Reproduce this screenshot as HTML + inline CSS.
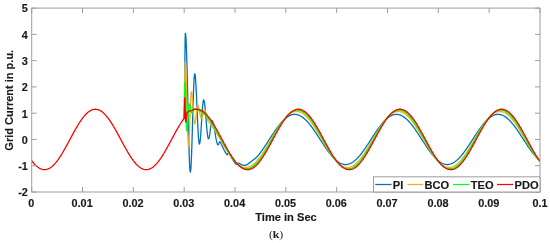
<!DOCTYPE html><html><head><meta charset="utf-8"><title>Grid Current</title><style>html,body{margin:0;padding:0;background:#fff;overflow:hidden}body{width:550px;height:243px;position:relative}</style></head><body><svg width="550" height="243" viewBox="0 0 550 243" style="position:absolute;left:0;top:0">
<rect width="550" height="243" fill="#fff"/>
<clipPath id="c"><rect x="31.7" y="8.1" width="508.3" height="183.9"/></clipPath>
<g clip-path="url(#c)" fill="none" stroke-linejoin="round" stroke-linecap="round">
<path d="M183.89 118.64 L183.94 118.57 L183.95 118.55 L184.02 118.46 L184.08 118.38 L184.15 118.29 L184.21 117.57 L184.28 115.69 L184.34 112.70 L184.41 108.69 L184.47 103.76 L184.53 98.05 L184.58 94.09 L184.60 91.73 L184.66 84.97 L184.73 77.95 L184.79 70.87 L184.86 63.94 L184.92 57.33 L184.99 51.25 L185.05 45.85 L185.11 41.28 L185.18 37.68 L185.21 36.28 L185.24 35.14 L185.31 33.74 L185.37 33.45 L185.44 33.50 L185.50 33.67 L185.57 33.95 L185.63 34.35 L185.69 34.86 L185.76 35.48 L185.82 36.22 L185.85 36.51 L185.89 37.07 L185.95 38.03 L186.02 39.09 L186.08 40.26 L186.15 41.54 L186.21 42.92 L186.27 44.39 L186.34 45.97 L186.40 47.63 L186.47 49.39 L186.48 49.79 L186.53 51.24 L186.60 53.18 L186.66 55.19 L186.73 57.29 L186.79 59.46 L186.85 61.70 L186.92 64.01 L186.98 66.38 L187.05 68.82 L187.11 71.31 L187.12 71.50 L187.18 73.85 L187.24 76.44 L187.31 79.08 L187.37 81.75 L187.43 84.46 L187.50 87.20 L187.56 89.96 L187.63 92.75 L187.69 95.55 L187.75 98.19 L187.76 98.36 L187.82 101.19 L187.89 104.01 L187.95 106.83 L188.01 109.64 L188.08 112.45 L188.14 115.23 L188.21 118.00 L188.27 120.74 L188.34 123.45 L188.39 125.59 L188.40 126.13 L188.47 128.76 L188.53 131.36 L188.59 133.91 L188.66 136.40 L188.72 138.84 L188.79 141.22 L188.85 143.53 L188.92 145.78 L188.98 147.96 L189.02 149.35 L189.05 150.06 L189.11 152.08 L189.17 154.02 L189.24 155.88 L189.30 157.65 L189.37 159.33 L189.43 160.91 L189.50 162.40 L189.56 163.78 L189.62 165.07 L189.66 165.70 L189.69 166.25 L189.75 167.33 L189.82 168.30 L189.88 169.16 L189.95 169.91 L190.01 170.55 L190.08 171.08 L190.14 171.49 L190.20 171.79 L190.27 171.98 L190.29 172.02 L190.33 172.05 L190.40 172.01 L190.46 171.86 L190.53 171.61 L190.59 171.26 L190.66 170.81 L190.72 170.25 L190.78 169.60 L190.85 168.85 L190.91 168.00 L190.93 167.79 L190.98 167.06 L191.04 166.02 L191.11 164.90 L191.17 163.68 L191.24 162.38 L191.30 161.00 L191.36 159.53 L191.43 157.99 L191.49 156.37 L191.56 154.69 L191.56 154.52 L191.62 152.94 L191.69 151.12 L191.75 149.24 L191.82 147.31 L191.88 145.33 L191.94 143.30 L192.01 141.23 L192.07 139.11 L192.14 136.97 L192.20 134.88 L192.20 134.79 L192.27 132.59 L192.33 130.37 L192.40 128.13 L192.46 125.89 L192.52 123.63 L192.59 121.38 L192.65 119.13 L192.72 116.88 L192.78 114.65 L192.84 112.84 L192.85 112.44 L192.91 110.24 L192.98 108.08 L193.04 105.95 L193.10 103.85 L193.17 101.79 L193.23 99.78 L193.30 97.82 L193.36 95.91 L193.43 94.05 L193.47 92.83 L193.49 92.26 L193.56 90.53 L193.62 88.88 L193.68 87.29 L193.75 85.78 L193.81 84.35 L193.88 83.00 L193.94 81.73 L194.01 80.55 L194.07 79.46 L194.11 78.91 L194.14 78.47 L194.20 77.56 L194.26 76.76 L194.33 76.05 L194.39 75.44 L194.46 74.93 L194.52 74.52 L194.59 74.22 L194.65 74.02 L194.72 73.92 L194.74 73.91 L194.78 73.92 L194.84 74.00 L194.91 74.14 L194.97 74.35 L195.04 74.62 L195.10 74.96 L195.17 75.36 L195.23 75.83 L195.30 76.36 L195.36 76.95 L195.38 77.11 L195.42 77.60 L195.49 78.31 L195.55 79.09 L195.62 79.91 L195.68 80.80 L195.75 81.73 L195.81 82.72 L195.88 83.76 L195.94 84.85 L196.00 85.98 L196.01 86.12 L196.07 87.15 L196.13 88.37 L196.20 89.63 L196.26 90.92 L196.33 92.25 L196.39 93.61 L196.46 95.00 L196.52 96.41 L196.58 97.85 L196.65 99.28 L196.65 99.31 L196.71 100.79 L196.78 102.29 L196.84 103.79 L196.91 105.31 L196.97 106.83 L197.04 108.36 L197.10 109.89 L197.16 111.41 L197.23 112.93 L197.28 114.21 L197.29 114.45 L197.36 115.95 L197.42 117.44 L197.49 118.92 L197.55 120.37 L197.62 121.80 L197.68 123.21 L197.74 124.59 L197.81 125.94 L197.87 127.26 L197.92 128.17 L197.94 128.55 L198.00 129.79 L198.07 131.00 L198.13 132.16 L198.20 133.29 L198.26 134.36 L198.32 135.39 L198.39 136.36 L198.45 137.29 L198.52 138.16 L198.55 138.62 L198.58 138.97 L198.65 139.73 L198.71 140.43 L198.78 141.07 L198.84 141.65 L198.90 142.16 L198.97 142.62 L199.03 143.01 L199.10 143.34 L199.16 143.60 L199.19 143.69 L199.23 143.80 L199.29 143.93 L199.36 143.99 L199.42 144.00 L199.48 143.96 L199.55 143.87 L199.61 143.73 L199.68 143.54 L199.74 143.30 L199.81 143.02 L199.82 142.93 L199.87 142.69 L199.94 142.31 L200.00 141.89 L200.06 141.42 L200.13 140.91 L200.19 140.35 L200.26 139.76 L200.32 139.12 L200.39 138.45 L200.45 137.74 L200.46 137.64 L200.52 137.00 L200.58 136.22 L200.64 135.41 L200.71 134.57 L200.77 133.70 L200.84 132.81 L200.90 131.89 L200.97 130.95 L201.03 129.99 L201.10 129.02 L201.10 129.01 L201.16 128.02 L201.22 127.02 L201.29 126.00 L201.35 124.97 L201.42 123.94 L201.48 122.90 L201.55 121.86 L201.61 120.82 L201.67 119.79 L201.73 118.90 L201.74 118.75 L201.80 117.73 L201.87 116.71 L201.93 115.71 L202.00 114.72 L202.06 113.75 L202.13 112.79 L202.19 111.85 L202.25 110.94 L202.32 110.05 L202.37 109.43 L202.38 109.19 L202.45 108.36 L202.51 107.55 L202.58 106.78 L202.64 106.05 L202.71 105.34 L202.77 104.68 L202.83 104.05 L202.90 103.47 L202.96 102.92 L203.00 102.63 L203.03 102.42 L203.09 101.97 L203.16 101.55 L203.22 101.19 L203.29 100.87 L203.35 100.60 L203.41 100.37 L203.48 100.20 L203.54 100.07 L203.61 100.00 L203.64 99.98 L203.67 99.97 L203.74 100.00 L203.80 100.07 L203.87 100.17 L203.93 100.31 L203.99 100.48 L204.06 100.68 L204.12 100.91 L204.19 101.18 L204.25 101.47 L204.27 101.57 L204.32 101.80 L204.38 102.16 L204.45 102.55 L204.51 102.96 L204.57 103.41 L204.64 103.88 L204.70 104.38 L204.77 104.91 L204.83 105.46 L204.90 106.03 L204.91 106.13 L204.96 106.63 L205.03 107.25 L205.09 107.89 L205.15 108.56 L205.22 109.24 L205.28 109.94 L205.35 110.65 L205.41 111.38 L205.48 112.13 L205.54 112.88 L205.54 112.90 L205.61 113.65 L205.67 114.43 L205.73 115.22 L205.80 116.01 L205.86 116.81 L205.93 117.62 L205.99 118.42 L206.06 119.23 L206.12 120.04 L206.18 120.76 L206.19 120.85 L206.25 121.66 L206.31 122.46 L206.38 123.25 L206.44 124.04 L206.51 124.82 L206.57 125.59 L206.64 126.35 L206.70 127.10 L206.77 127.83 L206.81 128.37 L206.83 128.55 L206.89 129.25 L206.96 129.94 L207.02 130.60 L207.09 131.25 L207.15 131.88 L207.22 132.48 L207.28 133.06 L207.35 133.62 L207.41 134.15 L207.45 134.46 L207.47 134.65 L207.54 135.13 L207.60 135.59 L207.67 136.01 L207.73 136.40 L207.80 136.77 L207.86 137.11 L207.93 137.41 L207.99 137.69 L208.05 137.93 L208.08 138.03 L208.12 138.14 L208.18 138.32 L208.25 138.47 L208.31 138.59 L208.38 138.67 L208.44 138.72 L208.51 138.75 L208.57 138.74 L208.63 138.71 L208.70 138.65 L208.72 138.62 L208.76 138.56 L208.83 138.44 L208.89 138.29 L208.96 138.12 L209.02 137.92 L209.09 137.70 L209.15 137.45 L209.21 137.18 L209.28 136.88 L209.34 136.56 L209.36 136.50 L209.41 136.23 L209.47 135.87 L209.54 135.49 L209.60 135.10 L209.67 134.69 L209.73 134.26 L209.79 133.82 L209.86 133.37 L209.92 132.91 L209.99 132.44 L209.99 132.42 L210.05 131.96 L210.12 131.47 L210.18 130.98 L210.25 130.48 L210.31 129.98 L210.37 129.49 L210.44 128.99 L210.50 128.49 L210.57 128.00 L210.63 127.56 L210.63 127.51 L210.70 127.03 L210.76 126.56 L210.83 126.10 L210.89 125.65 L210.95 125.21 L211.02 124.78 L211.08 124.37 L211.15 123.98 L211.21 123.60 L211.26 123.33 L211.28 123.25 L211.34 122.91 L211.41 122.59 L211.47 122.30 L211.53 122.03 L211.60 121.78 L211.66 121.56 L211.73 121.36 L211.79 121.19 L211.86 121.04 L211.90 120.97 L211.92 120.93 L211.99 120.84 L212.05 120.78 L212.11 120.75 L212.18 120.75 L212.24 120.78 L212.31 120.84 L212.37 120.92 L212.44 121.03 L212.50 121.14 L212.53 121.20 L212.57 121.26 L212.63 121.40 L212.69 121.54 L212.76 121.70 L212.82 121.87 L212.89 122.05 L212.95 122.24 L213.02 122.44 L213.08 122.65 L213.14 122.87 L213.17 122.94 L213.21 123.10 L213.27 123.34 L213.34 123.59 L213.40 123.84 L213.47 124.11 L213.53 124.39 L213.60 124.67 L213.66 124.97 L213.72 125.27 L213.79 125.58 L213.80 125.64 L213.85 125.89 L213.92 126.22 L213.98 126.55 L214.05 126.89 L214.11 127.23 L214.18 127.58 L214.24 127.93 L214.30 128.29 L214.37 128.66 L214.43 129.03 L214.44 129.05 L214.50 129.40 L214.56 129.77 L214.63 130.15 L214.69 130.54 L214.76 130.92 L214.82 131.31 L214.88 131.69 L214.95 132.08 L215.01 132.47 L215.07 132.83 L215.08 132.86 L215.14 133.25 L215.21 133.64 L215.27 134.03 L215.34 134.42 L215.40 134.80 L215.46 135.19 L215.53 135.57 L215.59 135.95 L215.66 136.32 L215.71 136.61 L215.72 136.69 L215.79 137.06 L215.85 137.42 L215.92 137.78 L215.98 138.13 L216.04 138.48 L216.11 138.82 L216.17 139.15 L216.24 139.48 L216.30 139.80 L216.34 140.00 L216.37 140.11 L216.43 140.42 L216.50 140.72 L216.56 141.01 L216.62 141.29 L216.69 141.56 L216.75 141.83 L216.82 142.08 L216.88 142.33 L216.95 142.56 L216.98 142.68 L217.01 142.79 L217.08 143.01 L217.14 143.21 L217.20 143.41 L217.27 143.59 L217.33 143.77 L217.40 143.93 L217.46 144.09 L217.53 144.23 L217.59 144.36 L217.61 144.41 L217.66 144.48 L217.72 144.59 L217.78 144.69 L217.85 144.77 L217.91 144.82 L217.98 144.85 L218.04 144.85 L218.11 144.84 L218.17 144.80 L218.24 144.74 L218.25 144.72 L218.30 144.66 L218.36 144.57 L218.43 144.46 L218.49 144.34 L218.56 144.20 L218.62 144.05 L218.69 143.89 L218.75 143.73 L218.82 143.56 L218.88 143.39 L218.89 143.38 L218.94 143.22 L219.01 143.05 L219.07 142.88 L219.14 142.72 L219.20 142.57 L219.27 142.42 L219.33 142.29 L219.40 142.17 L219.46 142.07 L219.52 141.99 L219.52 141.98 L219.59 141.91 L219.65 141.86 L219.72 141.83 L219.78 141.82 L219.85 141.84 L219.91 141.87 L219.98 141.93 L220.04 142.02 L220.10 142.12 L220.16 142.20 L220.17 142.22 L220.23 142.32 L220.30 142.42 L220.36 142.53 L220.43 142.63 L220.49 142.74 L220.56 142.85 L220.62 142.96 L220.68 143.07 L220.75 143.18 L220.79 143.25 L220.81 143.29 L220.88 143.41 L220.94 143.52 L221.01 143.64 L221.07 143.75 L221.14 143.87 L221.20 143.99 L221.26 144.11 L221.33 144.23 L221.39 144.35 L221.43 144.42 L221.46 144.47 L221.52 144.60 L221.59 144.72 L221.65 144.85 L221.72 144.97 L221.78 145.10 L221.84 145.23 L221.91 145.36 L221.97 145.49 L222.04 145.62 L222.06 145.67 L222.10 145.75 L222.17 145.88 L222.23 146.01 L222.30 146.14 L222.36 146.27 L222.42 146.41 L222.49 146.54 L222.55 146.67 L222.62 146.81 L222.68 146.94 L222.70 146.98 L222.75 147.08 L222.81 147.21 L222.88 147.35 L222.94 147.48 L223.00 147.62 L223.07 147.76 L223.13 147.89 L223.20 148.03 L223.26 148.16 L223.33 148.30 L223.33 148.31 L223.39 148.44 L223.46 148.57 L223.52 148.71 L223.58 148.84 L223.65 148.98 L223.71 149.11 L223.78 149.25 L223.84 149.38 L223.91 149.52 L223.97 149.65 L223.97 149.65 L224.04 149.78 L224.10 149.92 L224.16 150.05 L224.23 150.18 L224.29 150.31 L224.36 150.44 L224.42 150.57 L224.49 150.70 L224.55 150.83 L224.60 150.93 L224.62 150.95 L224.68 151.08 L224.74 151.21 L224.81 151.33 L224.87 151.46 L224.94 151.58 L225.00 151.70 L225.07 151.82 L225.13 151.94 L225.19 152.06 L225.24 152.14 L225.26 152.18 L225.32 152.30 L225.39 152.41 L225.45 152.53 L225.52 152.64 L225.58 152.75 L225.65 152.86 L225.71 152.97 L225.77 153.08 L225.84 153.19 L225.87 153.25 L225.90 153.29 L225.97 153.40 L226.03 153.50 L226.10 153.60 L226.16 153.70 L226.23 153.80 L226.29 153.90 L226.35 154.00 L226.42 154.09 L226.48 154.19 L226.51 154.23 L226.55 154.28 L226.61 154.37 L226.68 154.46 L226.74 154.55 L226.81 154.63 L226.87 154.69 L226.93 154.73 L227.00 154.75 L227.06 154.75 L227.13 154.73 L227.15 154.73 L227.19 154.70 L227.26 154.65 L227.32 154.59 L227.39 154.51 L227.45 154.43 L227.51 154.33 L227.58 154.23 L227.64 154.12 L227.71 154.01 L227.77 153.89 L227.78 153.88 L227.84 153.78 L227.90 153.67 L227.97 153.56 L228.03 153.46 L228.09 153.37 L228.16 153.29 L228.22 153.22 L228.29 153.16 L228.35 153.12 L228.42 153.10 L228.42 153.10 L228.48 153.09 L228.55 153.10 L228.61 153.13 L228.67 153.17 L228.74 153.24 L228.80 153.32 L228.87 153.40 L228.93 153.49 L229.00 153.57 L229.05 153.64 L229.06 153.66 L229.13 153.74 L229.19 153.83 L229.25 153.92 L229.32 154.01 L229.38 154.10 L229.45 154.19 L229.51 154.28 L229.58 154.37 L229.64 154.47 L229.69 154.53 L229.71 154.56 L229.77 154.66 L229.83 154.75 L229.90 154.85 L229.96 154.95 L230.03 155.05 L230.09 155.15 L230.16 155.25 L230.22 155.35 L230.29 155.45 L230.32 155.51 L230.35 155.56 L230.41 155.66 L230.48 155.76 L230.54 155.87 L230.61 155.98 L230.67 156.08 L230.74 156.19 L230.80 156.30 L230.87 156.41 L230.93 156.51 L230.96 156.56 L230.99 156.62 L231.06 156.73 L231.12 156.84 L231.19 156.95 L231.25 157.07 L231.32 157.18 L231.38 157.29 L231.45 157.40 L231.51 157.51 L231.57 157.63 L231.59 157.66 L231.64 157.74 L231.70 157.85 L231.77 157.96 L231.83 158.08 L231.90 158.19 L231.96 158.30 L232.03 158.42 L232.09 158.53 L232.15 158.64 L232.22 158.76 L232.23 158.77 L232.28 158.87 L232.35 158.98 L232.41 159.09 L232.48 159.21 L232.54 159.32 L232.61 159.43 L232.67 159.54 L232.73 159.65 L232.80 159.76 L232.86 159.87 L232.86 159.87 L232.93 159.98 L232.99 160.09 L233.06 160.20 L233.12 160.31 L233.19 160.41 L233.25 160.52 L233.31 160.62 L233.38 160.73 L233.44 160.83 L233.50 160.92 L233.51 160.94 L233.57 161.04 L233.64 161.14 L233.70 161.24 L233.77 161.34 L233.83 161.44 L233.89 161.54 L233.96 161.63 L234.02 161.73 L234.09 161.82 L234.13 161.89 L234.15 161.92 L234.22 162.01 L234.28 162.10 L234.35 162.19 L234.41 162.28 L234.47 162.37 L234.54 162.45 L234.60 162.54 L234.67 162.62 L234.73 162.71 L234.77 162.75 L234.80 162.79 L234.86 162.87 L234.93 162.94 L234.99 163.02 L235.05 163.10 L235.12 163.17 L235.18 163.24 L235.25 163.31 L235.31 163.38 L235.38 163.45 L235.41 163.48 L235.44 163.52 L235.51 163.58 L235.57 163.65 L235.63 163.71 L235.70 163.77 L235.76 163.83 L235.83 163.88 L235.89 163.94 L235.96 163.99 L236.02 164.04 L236.04 164.06 L236.09 164.09 L236.15 164.14 L236.21 164.19 L236.28 164.24 L236.34 164.27 L236.41 164.30 L236.47 164.32 L236.54 164.33 L236.60 164.34 L236.66 164.33 L236.68 164.33 L236.73 164.32 L236.79 164.30 L236.86 164.28 L236.92 164.25 L236.99 164.21 L237.05 164.16 L237.12 164.12 L237.18 164.06 L237.24 164.01 L237.31 163.95 L237.31 163.95 L237.37 163.89 L237.44 163.83 L237.50 163.76 L237.57 163.70 L237.63 163.63 L237.70 163.57 L237.76 163.51 L237.82 163.45 L237.89 163.39 L237.95 163.35 L237.95 163.34 L238.02 163.29 L238.08 163.25 L238.15 163.21 L238.21 163.18 L238.28 163.15 L238.34 163.13 L238.40 163.12 L238.47 163.11 L238.53 163.11 L238.58 163.12 L238.60 163.12 L238.66 163.14 L238.73 163.16 L238.79 163.19 L238.86 163.22 L238.92 163.26 L238.98 163.29 L239.05 163.32 L239.11 163.35 L239.18 163.39 L239.22 163.41 L239.24 163.42 L239.31 163.45 L239.37 163.48 L239.44 163.52 L239.50 163.55 L239.56 163.58 L239.63 163.62 L239.69 163.65 L239.76 163.68 L239.82 163.72 L239.85 163.73 L239.89 163.75 L239.95 163.79 L240.02 163.82 L240.08 163.85 L240.14 163.89 L240.21 163.92 L240.27 163.96 L240.34 163.99 L240.40 164.02 L240.47 164.06 L240.49 164.07 L240.53 164.09 L240.60 164.13 L240.66 164.16 L240.72 164.20 L240.79 164.23 L240.85 164.26 L240.92 164.30 L240.98 164.33 L241.05 164.36 L241.11 164.40 L241.12 164.40 L241.18 164.43 L241.24 164.46 L241.30 164.49 L241.37 164.53 L241.43 164.56 L241.50 164.59 L241.56 164.62 L241.63 164.65 L241.69 164.68 L241.76 164.71 L241.76 164.71 L241.82 164.74 L241.88 164.77 L241.95 164.80 L242.01 164.83 L242.08 164.86 L242.14 164.88 L242.21 164.91 L242.27 164.94 L242.34 164.96 L242.39 164.98 L242.40 164.99 L242.46 165.01 L242.53 165.04 L242.59 165.06 L242.66 165.08 L242.72 165.10 L242.79 165.13 L242.85 165.15 L242.92 165.17 L242.98 165.19 L243.03 165.20 L243.04 165.20 L243.11 165.22 L243.17 165.24 L243.24 165.26 L243.30 165.27 L243.37 165.29 L243.43 165.30 L243.50 165.31 L243.56 165.33 L243.62 165.34 L243.67 165.34 L243.69 165.35 L243.75 165.36 L243.82 165.37 L243.88 165.37 L243.95 165.38 L244.01 165.39 L244.08 165.39 L244.14 165.40 L244.20 165.40 L244.27 165.40 L244.30 165.40 L244.33 165.40 L244.40 165.41 L244.46 165.40 L244.53 165.40 L244.59 165.40 L244.66 165.40 L244.72 165.39 L244.78 165.39 L244.85 165.38 L244.91 165.38 L244.94 165.37 L244.98 165.37 L245.04 165.36 L245.11 165.35 L245.17 165.34 L245.24 165.32 L245.30 165.31 L245.36 165.30 L245.43 165.28 L245.49 165.27 L245.56 165.25 L245.57 165.24 L245.62 165.23 L245.69 165.21 L245.75 165.19 L245.82 165.17 L245.88 165.15 L245.94 165.13 L246.01 165.10 L246.07 165.08 L246.14 165.05 L246.20 165.03 L246.21 165.02 L246.27 165.00 L246.33 164.97 L246.40 164.94 L246.46 164.91 L246.52 164.88 L246.59 164.85 L246.65 164.82 L246.72 164.78 L246.78 164.75 L246.84 164.72 L246.85 164.72 L246.91 164.68 L246.98 164.64 L247.04 164.61 L247.10 164.57 L247.17 164.53 L247.23 164.49 L247.30 164.45 L247.36 164.41 L247.43 164.37 L247.48 164.34 L247.49 164.33 L247.56 164.29 L247.62 164.25 L247.68 164.20 L247.75 164.16 L247.81 164.11 L247.88 164.07 L247.94 164.02 L248.01 163.98 L248.07 163.93 L248.11 163.90 L248.14 163.89 L248.20 163.84 L248.26 163.79 L248.33 163.74 L248.39 163.70 L248.46 163.65 L248.52 163.60 L248.59 163.55 L248.65 163.50 L248.71 163.45 L248.75 163.42 L248.78 163.40 L248.84 163.35 L248.91 163.30 L248.97 163.25 L249.04 163.20 L249.10 163.15 L249.17 163.10 L249.23 163.05 L249.29 162.99 L249.36 162.94 L249.38 162.92 L249.42 162.89 L249.49 162.84 L249.55 162.79 L249.62 162.74 L249.68 162.68 L249.75 162.63 L249.81 162.58 L249.87 162.53 L249.94 162.48 L250.00 162.43 L250.02 162.41 L250.07 162.37 L250.13 162.32 L250.20 162.27 L250.26 162.22 L250.33 162.17 L250.39 162.12 L250.45 162.07 L250.52 162.02 L250.58 161.97 L250.65 161.92 L250.65 161.91 L250.71 161.86 L250.78 161.81 L250.84 161.76 L250.91 161.72 L250.97 161.67 L251.03 161.62 L251.10 161.57 L251.16 161.52 L251.23 161.47 L251.29 161.42 L251.29 161.42 L251.36 161.37 L251.42 161.33 L251.49 161.28 L251.55 161.23 L251.61 161.18 L251.68 161.14 L251.74 161.09 L251.81 161.04 L251.87 161.00 L251.93 160.96 L251.94 160.95 L252.00 160.90 L252.07 160.86 L252.13 160.81 L252.19 160.76 L252.26 160.72 L252.32 160.67 L252.39 160.62 L252.45 160.58 L252.52 160.53 L252.56 160.50 L252.58 160.48 L252.65 160.44 L252.71 160.39 L252.77 160.34 L252.84 160.29 L252.90 160.25 L252.97 160.20 L253.03 160.15 L253.10 160.10 L253.16 160.06 L253.20 160.03 L253.23 160.01 L253.29 159.96 L253.35 159.91 L253.42 159.87 L253.48 159.82 L253.55 159.77 L253.61 159.72 L253.68 159.67 L253.74 159.62 L253.81 159.57 L253.83 159.56 L253.87 159.53 L253.93 159.48 L254.00 159.43 L254.06 159.38 L254.13 159.33 L254.19 159.28 L254.26 159.23 L254.32 159.18 L254.39 159.13 L254.45 159.08 L254.47 159.06 L254.51 159.02 L254.58 158.97 L254.64 158.92 L254.71 158.87 L254.77 158.82 L254.84 158.76 L254.90 158.71 L254.97 158.66 L255.03 158.60 L255.09 158.55 L255.10 158.54 L255.16 158.50 L255.22 158.44 L255.29 158.39 L255.35 158.33 L255.42 158.27 L255.48 158.22 L255.55 158.16 L255.61 158.10 L255.67 158.05 L255.74 157.99 L255.74 157.99 L255.80 157.93 L255.87 157.87 L255.93 157.81 L256.00 157.75 L256.06 157.69 L256.13 157.63 L256.19 157.57 L256.25 157.51 L256.32 157.45 L256.37 157.39 L256.38 157.38 L256.45 157.32 L256.51 157.26 L256.58 157.19 L256.64 157.13 L256.71 157.06 L256.77 157.00 L256.83 156.93 L256.90 156.86 L256.96 156.80 L257.01 156.75 L257.03 156.73 L257.09 156.66 L257.16 156.59 L257.22 156.52 L257.29 156.45 L257.35 156.38 L257.41 156.31 L257.48 156.23 L257.54 156.16 L257.61 156.09 L257.64 156.05 L257.67 156.01 L257.74 155.94 L257.80 155.87 L257.87 155.79 L257.93 155.71 L257.99 155.64 L258.06 155.56 L258.12 155.48 L258.19 155.41 L258.25 155.33 L258.28 155.30 L258.32 155.25 L258.38 155.17 L258.45 155.10 L258.51 155.02 L258.57 154.94 L258.64 154.86 L258.70 154.78 L258.77 154.70 L258.83 154.62 L258.90 154.54 L258.91 154.52 L258.96 154.46 L259.03 154.38 L259.09 154.30 L259.15 154.22 L259.22 154.14 L259.28 154.06 L259.35 153.98 L259.41 153.90 L259.48 153.82 L259.54 153.73 L259.55 153.72 L259.61 153.65 L259.67 153.57 L259.73 153.49 L259.80 153.40 L259.86 153.32 L259.93 153.24 L259.99 153.15 L260.06 153.07 L260.12 152.98 L260.19 152.90 L260.82 152.06 L261.46 151.20 L262.09 150.32 L262.73 149.42 L263.36 148.51 L264.00 147.58 L264.63 146.65 L265.27 145.70 L265.90 144.74 L266.54 143.77 L267.17 142.80 L267.81 141.82 L268.44 140.84 L269.08 139.85 L269.72 138.87 L270.35 137.88 L270.99 136.90 L271.62 135.92 L272.26 134.95 L272.89 133.98 L273.53 133.03 L274.16 132.08 L274.80 131.14 L275.43 130.22 L276.07 129.31 L276.70 128.42 L277.34 127.54 L277.98 126.69 L278.61 125.85 L279.25 125.03 L279.88 124.24 L280.52 123.46 L281.15 122.72 L281.79 122.00 L282.42 121.30 L283.06 120.64 L283.69 120.00 L284.33 119.39 L284.96 118.82 L285.60 118.27 L286.24 117.76 L286.87 117.28 L287.51 116.84 L288.14 116.43 L288.78 116.06 L289.41 115.72 L290.05 115.42 L290.68 115.16 L291.32 114.93 L291.95 114.74 L292.59 114.59 L293.22 114.48 L293.86 114.41 L294.50 114.37 L295.13 114.37 L295.77 114.42 L296.40 114.50 L297.04 114.62 L297.67 114.78 L298.31 114.97 L298.94 115.21 L299.58 115.48 L300.21 115.79 L300.85 116.13 L301.48 116.51 L302.12 116.93 L302.76 117.38 L303.39 117.86 L304.03 118.38 L304.66 118.93 L305.30 119.51 L305.93 120.13 L306.57 120.77 L307.20 121.44 L307.84 122.14 L308.47 122.87 L309.11 123.62 L309.74 124.39 L310.38 125.19 L311.01 126.01 L311.65 126.86 L312.29 127.72 L312.92 128.60 L313.56 129.49 L314.19 130.40 L314.83 131.33 L315.46 132.27 L316.10 133.22 L316.73 134.18 L317.37 135.14 L318.00 136.12 L318.64 137.10 L319.27 138.08 L319.91 139.06 L320.55 140.05 L321.18 141.03 L321.82 142.01 L322.45 142.99 L323.09 143.96 L323.72 144.93 L324.36 145.89 L324.99 146.83 L325.63 147.77 L326.26 148.69 L326.90 149.60 L327.53 150.49 L328.17 151.37 L328.81 152.23 L329.44 153.07 L330.08 153.88 L330.71 154.68 L331.35 155.45 L331.98 156.20 L332.62 156.92 L333.25 157.61 L333.89 158.28 L334.52 158.91 L335.16 159.52 L335.79 160.10 L336.43 160.64 L337.07 161.15 L337.70 161.63 L338.34 162.07 L338.97 162.48 L339.61 162.86 L340.24 163.19 L340.88 163.49 L341.51 163.76 L342.15 163.98 L342.78 164.17 L343.42 164.32 L344.05 164.44 L344.69 164.51 L345.33 164.54 L345.96 164.54 L346.60 164.50 L347.23 164.42 L347.87 164.30 L348.50 164.14 L349.14 163.94 L349.77 163.71 L350.41 163.44 L351.04 163.13 L351.68 162.78 L352.31 162.40 L352.95 161.99 L353.59 161.54 L354.22 161.05 L354.86 160.53 L355.49 159.98 L356.13 159.40 L356.76 158.79 L357.40 158.15 L358.03 157.47 L358.67 156.78 L359.30 156.05 L359.94 155.30 L360.57 154.52 L361.21 153.72 L361.85 152.90 L362.48 152.06 L363.12 151.20 L363.75 150.32 L364.39 149.42 L365.02 148.51 L365.66 147.58 L366.29 146.65 L366.93 145.70 L367.56 144.74 L368.20 143.77 L368.83 142.80 L369.47 141.82 L370.10 140.84 L370.74 139.85 L371.38 138.87 L372.01 137.88 L372.65 136.90 L373.28 135.92 L373.92 134.95 L374.55 133.98 L375.19 133.03 L375.82 132.08 L376.46 131.14 L377.09 130.22 L377.73 129.31 L378.36 128.42 L379.00 127.54 L379.64 126.69 L380.27 125.85 L380.91 125.03 L381.54 124.24 L382.18 123.46 L382.81 122.72 L383.45 122.00 L384.08 121.30 L384.72 120.64 L385.35 120.00 L385.99 119.39 L386.62 118.82 L387.26 118.27 L387.90 117.76 L388.53 117.28 L389.17 116.84 L389.80 116.43 L390.44 116.06 L391.07 115.72 L391.71 115.42 L392.34 115.16 L392.98 114.93 L393.61 114.74 L394.25 114.59 L394.88 114.48 L395.52 114.41 L396.16 114.37 L396.79 114.37 L397.43 114.42 L398.06 114.50 L398.70 114.62 L399.33 114.78 L399.97 114.97 L400.60 115.21 L401.24 115.48 L401.87 115.79 L402.51 116.13 L403.14 116.51 L403.78 116.93 L404.42 117.38 L405.05 117.86 L405.69 118.38 L406.32 118.93 L406.96 119.51 L407.59 120.13 L408.23 120.77 L408.86 121.44 L409.50 122.14 L410.13 122.87 L410.77 123.62 L411.40 124.39 L412.04 125.19 L412.67 126.01 L413.31 126.86 L413.95 127.72 L414.58 128.60 L415.22 129.49 L415.85 130.40 L416.49 131.33 L417.12 132.27 L417.76 133.22 L418.39 134.18 L419.03 135.14 L419.66 136.12 L420.30 137.10 L420.93 138.08 L421.57 139.06 L422.21 140.05 L422.84 141.03 L423.48 142.01 L424.11 142.99 L424.75 143.96 L425.38 144.93 L426.02 145.89 L426.65 146.83 L427.29 147.77 L427.92 148.69 L428.56 149.60 L429.19 150.49 L429.83 151.37 L430.47 152.23 L431.10 153.07 L431.74 153.88 L432.37 154.68 L433.01 155.45 L433.64 156.20 L434.28 156.92 L434.91 157.61 L435.55 158.28 L436.18 158.91 L436.82 159.52 L437.45 160.10 L438.09 160.64 L438.73 161.15 L439.36 161.63 L440.00 162.07 L440.63 162.48 L441.27 162.86 L441.90 163.19 L442.54 163.49 L443.17 163.76 L443.81 163.98 L444.44 164.17 L445.08 164.32 L445.71 164.44 L446.35 164.51 L446.99 164.54 L447.62 164.54 L448.26 164.50 L448.89 164.42 L449.53 164.30 L450.16 164.14 L450.80 163.94 L451.43 163.71 L452.07 163.44 L452.70 163.13 L453.34 162.78 L453.97 162.40 L454.61 161.99 L455.25 161.54 L455.88 161.05 L456.52 160.53 L457.15 159.98 L457.79 159.40 L458.42 158.79 L459.06 158.15 L459.69 157.47 L460.33 156.78 L460.96 156.05 L461.60 155.30 L462.23 154.52 L462.87 153.72 L463.50 152.90 L464.14 152.06 L464.78 151.20 L465.41 150.32 L466.05 149.42 L466.68 148.51 L467.32 147.58 L467.95 146.65 L468.59 145.70 L469.22 144.74 L469.86 143.77 L470.49 142.80 L471.13 141.82 L471.76 140.84 L472.40 139.85 L473.04 138.87 L473.67 137.88 L474.31 136.90 L474.94 135.92 L475.58 134.95 L476.21 133.98 L476.85 133.03 L477.48 132.08 L478.12 131.14 L478.75 130.22 L479.39 129.31 L480.02 128.42 L480.66 127.54 L481.30 126.69 L481.93 125.85 L482.57 125.03 L483.20 124.24 L483.84 123.46 L484.47 122.72 L485.11 122.00 L485.74 121.30 L486.38 120.64 L487.01 120.00 L487.65 119.39 L488.28 118.82 L488.92 118.27 L489.56 117.76 L490.19 117.28 L490.83 116.84 L491.46 116.43 L492.10 116.06 L492.73 115.72 L493.37 115.42 L494.00 115.16 L494.64 114.93 L495.27 114.74 L495.91 114.59 L496.54 114.48 L497.18 114.41 L497.82 114.37 L498.45 114.37 L499.09 114.42 L499.72 114.50 L500.36 114.62 L500.99 114.78 L501.63 114.97 L502.26 115.21 L502.90 115.48 L503.53 115.79 L504.17 116.13 L504.80 116.51 L505.44 116.93 L506.08 117.38 L506.71 117.86 L507.35 118.38 L507.98 118.93 L508.62 119.51 L509.25 120.13 L509.89 120.77 L510.52 121.44 L511.16 122.14 L511.79 122.87 L512.43 123.62 L513.06 124.39 L513.70 125.19 L514.34 126.01 L514.97 126.86 L515.61 127.72 L516.24 128.60 L516.88 129.49 L517.51 130.40 L518.15 131.33 L518.78 132.27 L519.42 133.22 L520.05 134.18 L520.69 135.14 L521.32 136.12 L521.96 137.10 L522.59 138.08 L523.23 139.06 L523.87 140.05 L524.50 141.03 L525.14 142.01 L525.77 142.99 L526.41 143.96 L527.04 144.93 L527.68 145.89 L528.31 146.83 L528.95 147.77 L529.58 148.69 L530.22 149.60 L530.85 150.49 L531.49 151.37 L532.13 152.23 L532.76 153.07 L533.40 153.88 L534.03 154.68 L534.67 155.45 L535.30 156.20 L535.94 156.92 L536.57 157.61 L537.21 158.28 L537.84 158.91 L538.48 159.52 L539.11 160.10 L539.75 160.64" stroke="#0072BD" stroke-width="1.3"/>
<path d="M183.89 118.64 L183.94 118.57 L183.95 118.55 L184.02 118.46 L184.08 118.38 L184.15 118.29 L184.21 117.58 L184.28 115.78 L184.34 112.96 L184.41 109.22 L184.47 104.72 L184.53 99.62 L184.58 96.17 L184.60 94.15 L184.66 88.50 L184.73 82.92 L184.79 77.62 L184.86 72.80 L184.92 68.68 L184.99 65.39 L185.05 63.09 L185.11 61.85 L185.18 61.63 L185.21 61.65 L185.24 61.71 L185.31 61.95 L185.37 62.34 L185.44 62.88 L185.50 63.58 L185.57 64.41 L185.63 65.40 L185.69 66.52 L185.76 67.77 L185.82 69.16 L185.85 69.69 L185.89 70.67 L185.95 72.31 L186.02 74.06 L186.08 75.91 L186.15 77.87 L186.21 79.92 L186.27 82.06 L186.34 84.27 L186.40 86.56 L186.47 88.91 L186.48 89.43 L186.53 91.31 L186.60 93.76 L186.66 96.24 L186.73 98.76 L186.79 101.28 L186.85 103.82 L186.92 106.36 L186.98 108.89 L187.05 111.40 L187.11 113.88 L187.12 114.07 L187.18 116.33 L187.24 118.73 L187.31 121.08 L187.37 123.36 L187.43 125.57 L187.50 127.71 L187.56 129.75 L187.63 131.71 L187.69 133.56 L187.75 135.20 L187.76 135.30 L187.82 136.93 L187.89 138.44 L187.95 139.83 L188.01 141.08 L188.08 142.20 L188.14 143.18 L188.21 144.01 L188.27 144.70 L188.34 145.24 L188.39 145.57 L188.40 145.63 L188.47 145.87 L188.53 145.95 L188.59 145.89 L188.66 145.68 L188.72 145.34 L188.79 144.87 L188.85 144.26 L188.92 143.52 L188.98 142.66 L189.02 142.03 L189.05 141.68 L189.11 140.58 L189.17 139.37 L189.24 138.06 L189.30 136.65 L189.37 135.14 L189.43 133.56 L189.50 131.90 L189.56 130.17 L189.62 128.38 L189.66 127.44 L189.69 126.55 L189.75 124.68 L189.82 122.77 L189.88 120.85 L189.95 118.92 L190.01 116.99 L190.08 115.06 L190.14 113.16 L190.20 111.29 L190.27 109.45 L190.29 108.77 L190.33 107.67 L190.40 105.94 L190.46 104.28 L190.53 102.69 L190.59 101.19 L190.66 99.78 L190.72 98.47 L190.78 97.26 L190.85 96.16 L190.91 95.18 L190.93 94.96 L190.98 94.32 L191.04 93.59 L191.11 92.98 L191.17 92.51 L191.24 92.18 L191.30 91.98 L191.36 91.92 L191.43 91.93 L191.49 92.01 L191.56 92.15 L191.56 92.16 L191.62 92.34 L191.69 92.59 L191.75 92.89 L191.82 93.25 L191.88 93.66 L191.94 94.13 L192.01 94.64 L192.07 95.20 L192.14 95.81 L192.20 96.44 L192.20 96.46 L192.27 97.16 L192.33 97.89 L192.40 98.66 L192.46 99.46 L192.52 100.29 L192.59 101.15 L192.65 102.04 L192.72 102.94 L192.78 103.87 L192.84 104.63 L192.85 104.80 L192.91 105.75 L192.98 106.71 L193.04 107.67 L193.10 108.63 L193.17 109.59 L193.23 110.55 L193.30 111.49 L193.36 112.43 L193.43 113.34 L193.47 113.95 L193.49 114.24 L193.56 115.11 L193.62 115.96 L193.68 116.78 L193.75 117.57 L193.81 118.32 L193.88 119.04 L193.94 119.71 L194.01 120.35 L194.07 120.94 L194.11 121.24 L194.14 121.48 L194.20 121.98 L194.26 122.42 L194.33 122.81 L194.39 123.15 L194.46 123.44 L194.52 123.67 L194.59 123.84 L194.65 123.96 L194.72 124.02 L194.74 124.02 L194.78 124.02 L194.84 123.97 L194.91 123.89 L194.97 123.76 L195.04 123.58 L195.10 123.37 L195.17 123.11 L195.23 122.82 L195.30 122.48 L195.36 122.11 L195.38 122.01 L195.42 121.71 L195.49 121.27 L195.55 120.80 L195.62 120.30 L195.68 119.77 L195.75 119.22 L195.81 118.65 L195.88 118.05 L195.94 117.45 L196.00 116.82 L196.01 116.75 L196.07 116.19 L196.13 115.55 L196.20 114.90 L196.26 114.25 L196.33 113.61 L196.39 112.96 L196.46 112.33 L196.52 111.70 L196.58 111.09 L196.65 110.50 L196.65 110.49 L196.71 109.91 L196.78 109.35 L196.84 108.82 L196.91 108.31 L196.97 107.83 L197.04 107.38 L197.10 106.97 L197.16 106.59 L197.23 106.24 L197.28 105.98 L197.29 105.94 L197.36 105.67 L197.42 105.44 L197.49 105.26 L197.55 105.12 L197.62 105.03 L197.68 104.98 L197.74 104.97 L197.81 105.00 L197.87 105.04 L197.92 105.09 L197.94 105.11 L198.00 105.19 L198.07 105.29 L198.13 105.41 L198.20 105.55 L198.26 105.70 L198.32 105.87 L198.39 106.06 L198.45 106.26 L198.52 106.48 L198.55 106.61 L198.58 106.72 L198.65 106.96 L198.71 107.22 L198.78 107.50 L198.84 107.78 L198.90 108.08 L198.97 108.39 L199.03 108.70 L199.10 109.03 L199.16 109.36 L199.19 109.50 L199.23 109.70 L199.29 110.04 L199.36 110.39 L199.42 110.74 L199.48 111.10 L199.55 111.45 L199.61 111.81 L199.68 112.16 L199.74 112.52 L199.81 112.87 L199.82 112.97 L199.87 113.22 L199.94 113.56 L200.00 113.90 L200.06 114.23 L200.13 114.55 L200.19 114.87 L200.26 115.17 L200.32 115.47 L200.39 115.75 L200.45 116.03 L200.46 116.06 L200.52 116.29 L200.58 116.54 L200.64 116.77 L200.71 116.99 L200.77 117.19 L200.84 117.38 L200.90 117.55 L200.97 117.71 L201.03 117.85 L201.10 117.97 L201.10 117.97 L201.16 118.07 L201.22 118.16 L201.29 118.23 L201.35 118.28 L201.42 118.32 L201.48 118.33 L201.55 118.32 L201.61 118.29 L201.67 118.25 L201.73 118.19 L201.74 118.18 L201.80 118.10 L201.87 118.00 L201.93 117.88 L202.00 117.74 L202.06 117.59 L202.13 117.42 L202.19 117.24 L202.25 117.04 L202.32 116.83 L202.37 116.67 L202.38 116.61 L202.45 116.38 L202.51 116.13 L202.58 115.88 L202.64 115.62 L202.71 115.35 L202.77 115.07 L202.83 114.79 L202.90 114.51 L202.96 114.22 L203.00 114.06 L203.03 113.94 L203.09 113.65 L203.16 113.36 L203.22 113.08 L203.29 112.80 L203.35 112.53 L203.41 112.26 L203.48 111.99 L203.54 111.74 L203.61 111.50 L203.64 111.39 L203.67 111.26 L203.74 111.04 L203.80 110.83 L203.87 110.63 L203.93 110.45 L203.99 110.28 L204.06 110.13 L204.12 110.00 L204.19 109.88 L204.25 109.78 L204.27 109.75 L204.32 109.70 L204.38 109.64 L204.45 109.60 L204.51 109.57 L204.57 109.57 L204.64 109.59 L204.70 109.63 L204.77 109.69 L204.83 109.76 L204.90 109.85 L204.91 109.87 L204.96 109.95 L205.03 110.07 L205.09 110.20 L205.15 110.34 L205.22 110.50 L205.28 110.66 L205.35 110.84 L205.41 111.04 L205.48 111.24 L205.54 111.46 L205.54 111.46 L205.61 111.68 L205.67 111.92 L205.73 112.16 L205.80 112.41 L205.86 112.67 L205.93 112.94 L205.99 113.22 L206.06 113.50 L206.12 113.78 L206.18 114.04 L206.19 114.07 L206.25 114.37 L206.31 114.66 L206.38 114.96 L206.44 115.26 L206.51 115.56 L206.57 115.86 L206.64 116.16 L206.70 116.46 L206.77 116.75 L206.81 116.97 L206.83 117.04 L206.89 117.33 L206.96 117.61 L207.02 117.89 L207.09 118.15 L207.15 118.42 L207.22 118.67 L207.28 118.92 L207.35 119.15 L207.41 119.38 L207.45 119.51 L207.47 119.59 L207.54 119.80 L207.60 119.99 L207.67 120.18 L207.73 120.35 L207.80 120.51 L207.86 120.65 L207.93 120.79 L207.99 120.91 L208.05 121.02 L208.08 121.06 L208.12 121.11 L208.18 121.19 L208.25 121.28 L208.31 121.36 L208.38 121.44 L208.44 121.52 L208.51 121.60 L208.57 121.68 L208.63 121.76 L208.70 121.84 L208.72 121.87 L208.76 121.92 L208.83 122.00 L208.89 122.08 L208.96 122.16 L209.02 122.24 L209.09 122.32 L209.15 122.40 L209.21 122.48 L209.28 122.56 L209.34 122.64 L209.36 122.66 L209.41 122.72 L209.47 122.80 L209.54 122.88 L209.60 122.96 L209.67 123.04 L209.73 123.12 L209.79 123.20 L209.86 123.28 L209.92 123.36 L209.99 123.44 L209.99 123.44 L210.05 123.52 L210.12 123.59 L210.18 123.67 L210.25 123.75 L210.31 123.83 L210.37 123.91 L210.44 123.99 L210.50 124.07 L210.57 124.15 L210.63 124.22 L210.63 124.23 L210.70 124.31 L210.76 124.39 L210.83 124.47 L210.89 124.55 L210.95 124.63 L211.02 124.71 L211.08 124.80 L211.15 124.88 L211.21 124.96 L211.26 125.02 L211.28 125.04 L211.34 125.12 L211.41 125.21 L211.47 125.29 L211.53 125.37 L211.60 125.45 L211.66 125.54 L211.73 125.62 L211.79 125.71 L211.86 125.79 L211.90 125.84 L211.92 125.87 L211.99 125.96 L212.05 126.05 L212.11 126.13 L212.18 126.22 L212.24 126.30 L212.31 126.39 L212.37 126.48 L212.44 126.57 L212.50 126.66 L212.53 126.70 L212.57 126.75 L212.63 126.84 L212.69 126.93 L212.76 127.02 L212.82 127.11 L212.89 127.20 L212.95 127.29 L213.02 127.38 L213.08 127.48 L213.14 127.57 L213.17 127.60 L213.21 127.66 L213.27 127.76 L213.34 127.85 L213.40 127.95 L213.47 128.05 L213.53 128.14 L213.60 128.24 L213.66 128.34 L213.72 128.44 L213.79 128.54 L213.80 128.56 L213.85 128.64 L213.92 128.74 L213.98 128.84 L214.05 128.94 L214.11 129.04 L214.18 129.15 L214.24 129.25 L214.30 129.35 L214.37 129.46 L214.43 129.56 L214.44 129.57 L214.50 129.66 L214.56 129.77 L214.63 129.87 L214.69 129.98 L214.76 130.08 L214.82 130.19 L214.88 130.29 L214.95 130.40 L215.01 130.50 L215.07 130.60 L215.08 130.61 L215.14 130.72 L215.21 130.82 L215.27 130.93 L215.34 131.03 L215.40 131.14 L215.46 131.25 L215.53 131.35 L215.59 131.46 L215.66 131.57 L215.71 131.65 L215.72 131.67 L215.79 131.78 L215.85 131.89 L215.92 132.00 L215.98 132.10 L216.04 132.21 L216.11 132.32 L216.17 132.43 L216.24 132.53 L216.30 132.64 L216.34 132.71 L216.37 132.75 L216.43 132.86 L216.50 132.97 L216.56 133.08 L216.62 133.18 L216.69 133.29 L216.75 133.40 L216.82 133.51 L216.88 133.62 L216.95 133.73 L216.98 133.78 L217.01 133.84 L217.08 133.95 L217.14 134.06 L217.20 134.17 L217.27 134.27 L217.33 134.38 L217.40 134.49 L217.46 134.60 L217.53 134.71 L217.59 134.82 L217.61 134.86 L217.66 134.93 L217.72 135.04 L217.78 135.15 L217.85 135.26 L217.91 135.37 L217.98 135.48 L218.04 135.59 L218.11 135.70 L218.17 135.81 L218.24 135.93 L218.25 135.95 L218.30 136.04 L218.36 136.15 L218.43 136.26 L218.49 136.37 L218.56 136.48 L218.62 136.59 L218.69 136.70 L218.75 136.81 L218.82 136.92 L218.88 137.03 L218.89 137.04 L218.94 137.14 L219.01 137.26 L219.07 137.37 L219.14 137.48 L219.20 137.59 L219.27 137.70 L219.33 137.81 L219.40 137.92 L219.46 138.03 L219.52 138.14 L219.52 138.15 L219.59 138.26 L219.65 138.37 L219.72 138.48 L219.78 138.59 L219.85 138.70 L219.91 138.81 L219.98 138.92 L220.04 139.04 L220.10 139.15 L220.16 139.24 L220.17 139.26 L220.23 139.37 L220.30 139.48 L220.36 139.59 L220.43 139.70 L220.49 139.82 L220.56 139.93 L220.62 140.04 L220.68 140.15 L220.75 140.26 L220.79 140.34 L220.81 140.37 L220.88 140.48 L220.94 140.60 L221.01 140.71 L221.07 140.82 L221.14 140.93 L221.20 141.04 L221.26 141.15 L221.33 141.26 L221.39 141.37 L221.43 141.43 L221.46 141.49 L221.52 141.60 L221.59 141.71 L221.65 141.82 L221.72 141.93 L221.78 142.04 L221.84 142.15 L221.91 142.26 L221.97 142.37 L222.04 142.48 L222.06 142.53 L222.10 142.60 L222.17 142.71 L222.23 142.82 L222.30 142.93 L222.36 143.04 L222.42 143.15 L222.49 143.26 L222.55 143.37 L222.62 143.48 L222.68 143.59 L222.70 143.62 L222.75 143.70 L222.81 143.81 L222.88 143.92 L222.94 144.03 L223.00 144.14 L223.07 144.25 L223.13 144.36 L223.20 144.47 L223.26 144.58 L223.33 144.69 L223.33 144.70 L223.39 144.80 L223.46 144.91 L223.52 145.02 L223.58 145.13 L223.65 145.23 L223.71 145.34 L223.78 145.45 L223.84 145.56 L223.91 145.67 L223.97 145.77 L223.97 145.78 L224.04 145.89 L224.10 146.00 L224.16 146.10 L224.23 146.21 L224.29 146.32 L224.36 146.43 L224.42 146.54 L224.49 146.64 L224.55 146.75 L224.60 146.84 L224.62 146.86 L224.68 146.97 L224.74 147.07 L224.81 147.18 L224.87 147.29 L224.94 147.39 L225.00 147.50 L225.07 147.61 L225.13 147.71 L225.19 147.82 L225.24 147.89 L225.26 147.93 L225.32 148.03 L225.39 148.14 L225.45 148.24 L225.52 148.35 L225.58 148.46 L225.65 148.56 L225.71 148.67 L225.77 148.77 L225.84 148.88 L225.87 148.93 L225.90 148.98 L225.97 149.09 L226.03 149.19 L226.10 149.30 L226.16 149.40 L226.23 149.50 L226.29 149.61 L226.35 149.71 L226.42 149.82 L226.48 149.92 L226.51 149.96 L226.55 150.02 L226.61 150.12 L226.68 150.23 L226.74 150.33 L226.81 150.43 L226.87 150.54 L226.93 150.64 L227.00 150.74 L227.06 150.84 L227.13 150.94 L227.15 150.97 L227.19 151.05 L227.26 151.15 L227.32 151.25 L227.39 151.35 L227.45 151.45 L227.51 151.55 L227.58 151.65 L227.64 151.75 L227.71 151.85 L227.77 151.95 L227.78 151.96 L227.84 152.05 L227.90 152.15 L227.97 152.25 L228.03 152.35 L228.09 152.45 L228.16 152.54 L228.22 152.64 L228.29 152.74 L228.35 152.84 L228.42 152.94 L228.42 152.94 L228.48 153.03 L228.55 153.13 L228.61 153.23 L228.67 153.33 L228.74 153.42 L228.80 153.52 L228.87 153.62 L228.93 153.71 L229.00 153.81 L229.05 153.89 L229.06 153.90 L229.13 154.00 L229.19 154.09 L229.25 154.19 L229.32 154.28 L229.38 154.38 L229.45 154.47 L229.51 154.56 L229.58 154.66 L229.64 154.75 L229.69 154.82 L229.71 154.85 L229.77 154.94 L229.83 155.03 L229.90 155.12 L229.96 155.22 L230.03 155.31 L230.09 155.40 L230.16 155.49 L230.22 155.58 L230.29 155.67 L230.32 155.72 L230.35 155.76 L230.41 155.85 L230.48 155.94 L230.54 156.03 L230.61 156.12 L230.67 156.21 L230.74 156.30 L230.80 156.39 L230.87 156.48 L230.93 156.57 L230.96 156.61 L230.99 156.66 L231.06 156.74 L231.12 156.83 L231.19 156.92 L231.25 157.01 L231.32 157.09 L231.38 157.18 L231.45 157.26 L231.51 157.35 L231.57 157.44 L231.59 157.46 L231.64 157.52 L231.70 157.61 L231.77 157.69 L231.83 157.77 L231.90 157.86 L231.96 157.94 L232.03 158.03 L232.09 158.11 L232.15 158.19 L232.22 158.27 L232.23 158.29 L232.28 158.36 L232.35 158.44 L232.41 158.52 L232.48 158.60 L232.54 158.68 L232.61 158.76 L232.67 158.84 L232.73 158.92 L232.80 159.00 L232.86 159.08 L232.86 159.09 L232.93 159.16 L232.99 159.24 L233.06 159.32 L233.12 159.40 L233.19 159.48 L233.25 159.56 L233.31 159.63 L233.38 159.71 L233.44 159.79 L233.50 159.85 L233.51 159.86 L233.57 159.94 L233.64 160.01 L233.70 160.09 L233.77 160.17 L233.83 160.24 L233.89 160.31 L233.96 160.39 L234.02 160.46 L234.09 160.54 L234.13 160.59 L234.15 160.61 L234.22 160.68 L234.28 160.75 L234.35 160.83 L234.41 160.90 L234.47 160.97 L234.54 161.04 L234.60 161.11 L234.67 161.18 L234.73 161.25 L234.77 161.29 L234.80 161.32 L234.86 161.39 L234.93 161.46 L234.99 161.53 L235.05 161.60 L235.12 161.66 L235.18 161.73 L235.25 161.80 L235.31 161.87 L235.38 161.93 L235.41 161.96 L235.44 162.00 L235.51 162.06 L235.57 162.13 L235.63 162.20 L235.70 162.26 L235.76 162.32 L235.83 162.39 L235.89 162.45 L235.96 162.52 L236.02 162.58 L236.04 162.60 L236.09 162.64 L236.15 162.70 L236.21 162.77 L236.28 162.83 L236.34 162.89 L236.41 162.95 L236.47 163.01 L236.54 163.07 L236.60 163.13 L236.66 163.19 L236.68 163.20 L236.73 163.25 L236.79 163.30 L236.86 163.36 L236.92 163.42 L236.99 163.48 L237.05 163.53 L237.12 163.59 L237.18 163.65 L237.24 163.70 L237.31 163.76 L237.31 163.76 L237.37 163.81 L237.44 163.87 L237.50 163.92 L237.57 163.98 L237.63 164.03 L237.70 164.08 L237.76 164.14 L237.82 164.19 L237.89 164.24 L237.95 164.29 L237.95 164.29 L238.02 164.34 L238.08 164.39 L238.15 164.44 L238.21 164.49 L238.28 164.54 L238.34 164.59 L238.40 164.64 L238.47 164.69 L238.53 164.74 L238.58 164.77 L238.60 164.79 L238.66 164.83 L238.73 164.88 L238.79 164.93 L238.86 164.97 L238.92 165.02 L238.98 165.06 L239.05 165.11 L239.11 165.15 L239.18 165.19 L239.22 165.22 L239.24 165.24 L239.31 165.28 L239.37 165.32 L239.44 165.37 L239.50 165.41 L239.56 165.45 L239.63 165.49 L239.69 165.53 L239.76 165.57 L239.82 165.61 L239.85 165.63 L239.89 165.65 L239.95 165.69 L240.02 165.73 L240.08 165.77 L240.14 165.80 L240.21 165.84 L240.27 165.88 L240.34 165.91 L240.40 165.95 L240.47 165.99 L240.49 166.00 L240.53 166.02 L240.60 166.06 L240.66 166.09 L240.72 166.12 L240.79 166.16 L240.85 166.19 L240.92 166.22 L240.98 166.26 L241.05 166.29 L241.11 166.32 L241.12 166.33 L241.18 166.35 L241.24 166.38 L241.30 166.41 L241.37 166.44 L241.43 166.47 L241.50 166.50 L241.56 166.53 L241.63 166.55 L241.69 166.58 L241.76 166.61 L241.76 166.61 L241.82 166.64 L241.88 166.66 L241.95 166.69 L242.01 166.71 L242.08 166.74 L242.14 166.76 L242.21 166.79 L242.27 166.81 L242.34 166.83 L242.39 166.85 L242.40 166.86 L242.46 166.88 L242.53 166.90 L242.59 166.92 L242.66 166.94 L242.72 166.96 L242.79 166.98 L242.85 167.00 L242.92 167.02 L242.98 167.04 L243.03 167.06 L243.04 167.06 L243.11 167.08 L243.17 167.10 L243.24 167.11 L243.30 167.13 L243.37 167.15 L243.43 167.16 L243.50 167.18 L243.56 167.19 L243.62 167.21 L243.67 167.22 L243.69 167.22 L243.75 167.23 L243.82 167.25 L243.88 167.26 L243.95 167.27 L244.01 167.28 L244.08 167.30 L244.14 167.31 L244.20 167.32 L244.27 167.33 L244.30 167.33 L244.33 167.34 L244.40 167.35 L244.46 167.35 L244.53 167.36 L244.59 167.37 L244.66 167.38 L244.72 167.39 L244.78 167.39 L244.85 167.40 L244.91 167.40 L244.94 167.41 L244.98 167.41 L245.04 167.41 L245.11 167.42 L245.17 167.42 L245.24 167.42 L245.30 167.43 L245.36 167.43 L245.43 167.43 L245.49 167.43 L245.56 167.44 L245.57 167.44 L245.62 167.44 L245.69 167.44 L245.75 167.44 L245.82 167.44 L245.88 167.43 L245.94 167.43 L246.01 167.43 L246.07 167.43 L246.14 167.43 L246.20 167.42 L246.21 167.42 L246.27 167.42 L246.33 167.41 L246.40 167.41 L246.46 167.41 L246.52 167.40 L246.59 167.39 L246.65 167.39 L246.72 167.38 L246.78 167.37 L246.84 167.37 L246.85 167.37 L246.91 167.36 L246.98 167.35 L247.04 167.34 L247.10 167.33 L247.17 167.32 L247.23 167.31 L247.30 167.30 L247.36 167.29 L247.43 167.28 L247.48 167.27 L247.49 167.26 L247.56 167.25 L247.62 167.24 L247.68 167.23 L247.75 167.21 L247.81 167.20 L247.88 167.18 L247.94 167.17 L248.01 167.15 L248.07 167.14 L248.11 167.13 L248.14 167.12 L248.20 167.10 L248.26 167.09 L248.33 167.07 L248.39 167.05 L248.46 167.03 L248.52 167.01 L248.59 166.99 L248.65 166.97 L248.71 166.95 L248.75 166.94 L248.78 166.93 L248.84 166.91 L248.91 166.89 L248.97 166.87 L249.04 166.84 L249.10 166.82 L249.17 166.80 L249.23 166.77 L249.29 166.75 L249.36 166.72 L249.38 166.71 L249.42 166.70 L249.49 166.67 L249.55 166.65 L249.62 166.62 L249.68 166.59 L249.75 166.57 L249.81 166.54 L249.87 166.51 L249.94 166.48 L250.00 166.45 L250.02 166.44 L250.07 166.42 L250.13 166.39 L250.20 166.36 L250.26 166.33 L250.33 166.30 L250.39 166.27 L250.45 166.24 L250.52 166.20 L250.58 166.17 L250.65 166.14 L250.65 166.13 L250.71 166.10 L250.78 166.07 L250.84 166.03 L250.91 166.00 L250.97 165.96 L251.03 165.93 L251.10 165.89 L251.16 165.86 L251.23 165.82 L251.29 165.78 L251.29 165.78 L251.36 165.74 L251.42 165.70 L251.49 165.67 L251.55 165.63 L251.61 165.59 L251.68 165.55 L251.74 165.51 L251.81 165.47 L251.87 165.42 L251.93 165.39 L251.94 165.38 L252.00 165.34 L252.07 165.30 L252.13 165.25 L252.19 165.21 L252.26 165.17 L252.32 165.12 L252.39 165.08 L252.45 165.03 L252.52 164.99 L252.56 164.96 L252.58 164.94 L252.65 164.90 L252.71 164.85 L252.77 164.80 L252.84 164.76 L252.90 164.71 L252.97 164.66 L253.03 164.61 L253.10 164.56 L253.16 164.51 L253.20 164.49 L253.23 164.46 L253.29 164.41 L253.35 164.36 L253.42 164.31 L253.48 164.26 L253.55 164.21 L253.61 164.16 L253.68 164.10 L253.74 164.05 L253.81 164.00 L253.83 163.98 L253.87 163.94 L253.93 163.89 L254.00 163.83 L254.06 163.78 L254.13 163.72 L254.19 163.67 L254.26 163.61 L254.32 163.56 L254.39 163.50 L254.45 163.44 L254.47 163.43 L254.51 163.38 L254.58 163.33 L254.64 163.27 L254.71 163.21 L254.77 163.15 L254.84 163.09 L254.90 163.03 L254.97 162.97 L255.03 162.91 L255.09 162.85 L255.10 162.84 L255.16 162.79 L255.22 162.73 L255.29 162.66 L255.35 162.60 L255.42 162.54 L255.48 162.48 L255.55 162.41 L255.61 162.35 L255.67 162.28 L255.74 162.22 L255.74 162.22 L255.80 162.15 L255.87 162.09 L255.93 162.02 L256.00 161.96 L256.06 161.89 L256.13 161.82 L256.19 161.76 L256.25 161.69 L256.32 161.62 L256.37 161.56 L256.38 161.55 L256.45 161.49 L256.51 161.42 L256.58 161.35 L256.64 161.28 L256.71 161.21 L256.77 161.14 L256.83 161.07 L256.90 161.00 L256.96 160.92 L257.01 160.87 L257.03 160.85 L257.09 160.78 L257.16 160.71 L257.22 160.64 L257.29 160.56 L257.35 160.49 L257.41 160.42 L257.48 160.34 L257.54 160.27 L257.61 160.19 L257.64 160.15 L257.67 160.12 L257.74 160.04 L257.80 159.97 L257.87 159.89 L257.93 159.82 L257.99 159.74 L258.06 159.66 L258.12 159.58 L258.19 159.51 L258.25 159.43 L258.28 159.40 L258.32 159.35 L258.38 159.27 L258.45 159.19 L258.51 159.11 L258.57 159.03 L258.64 158.95 L258.70 158.87 L258.77 158.79 L258.83 158.71 L258.90 158.63 L258.91 158.61 L258.96 158.55 L259.03 158.47 L259.09 158.39 L259.15 158.31 L259.22 158.22 L259.28 158.14 L259.35 158.06 L259.41 157.97 L259.48 157.89 L259.54 157.81 L259.55 157.79 L259.61 157.72 L259.67 157.64 L259.73 157.55 L259.80 157.47 L259.86 157.38 L259.93 157.30 L259.99 157.21 L260.06 157.12 L260.12 157.04 L260.19 156.95 L260.82 156.08 L261.46 155.18 L262.09 154.26 L262.73 153.32 L263.36 152.35 L264.00 151.37 L264.63 150.37 L265.27 149.35 L265.90 148.31 L266.54 147.26 L267.17 146.20 L267.81 145.13 L268.44 144.05 L269.08 142.96 L269.72 141.87 L270.35 140.78 L270.99 139.68 L271.62 138.58 L272.26 137.48 L272.89 136.39 L273.53 135.30 L274.16 134.21 L274.80 133.14 L275.43 132.07 L276.07 131.02 L276.70 129.98 L277.34 128.95 L277.98 127.94 L278.61 126.95 L279.25 125.98 L279.88 125.03 L280.52 124.10 L281.15 123.19 L281.79 122.31 L282.42 121.45 L283.06 120.63 L283.69 119.83 L284.33 119.06 L284.96 118.33 L285.60 117.62 L286.24 116.95 L286.87 116.32 L287.51 115.72 L288.14 115.15 L288.78 114.63 L289.41 114.14 L290.05 113.69 L290.68 113.28 L291.32 112.92 L291.95 112.59 L292.59 112.30 L293.22 112.06 L293.86 111.86 L294.50 111.70 L295.13 111.58 L295.77 111.51 L296.40 111.48 L297.04 111.49 L297.67 111.55 L298.31 111.65 L298.94 111.79 L299.58 111.97 L300.21 112.20 L300.85 112.47 L301.48 112.78 L302.12 113.13 L302.76 113.52 L303.39 113.96 L304.03 114.43 L304.66 114.94 L305.30 115.49 L305.93 116.07 L306.57 116.69 L307.20 117.35 L307.84 118.04 L308.47 118.76 L309.11 119.52 L309.74 120.30 L310.38 121.12 L311.01 121.96 L311.65 122.83 L312.29 123.73 L312.92 124.65 L313.56 125.59 L314.19 126.56 L314.83 127.54 L315.46 128.55 L316.10 129.57 L316.73 130.60 L317.37 131.65 L318.00 132.71 L318.64 133.78 L319.27 134.86 L319.91 135.95 L320.55 137.04 L321.18 138.14 L321.82 139.24 L322.45 140.34 L323.09 141.43 L323.72 142.53 L324.36 143.62 L324.99 144.70 L325.63 145.77 L326.26 146.84 L326.90 147.89 L327.53 148.93 L328.17 149.96 L328.81 150.97 L329.44 151.96 L330.08 152.94 L330.71 153.89 L331.35 154.82 L331.98 155.72 L332.62 156.61 L333.25 157.46 L333.89 158.29 L334.52 159.09 L335.16 159.85 L335.79 160.59 L336.43 161.29 L337.07 161.96 L337.70 162.60 L338.34 163.20 L338.97 163.76 L339.61 164.29 L340.24 164.77 L340.88 165.22 L341.51 165.63 L342.15 166.00 L342.78 166.33 L343.42 166.61 L344.05 166.85 L344.69 167.06 L345.33 167.22 L345.96 167.33 L346.60 167.41 L347.23 167.44 L347.87 167.42 L348.50 167.37 L349.14 167.27 L349.77 167.13 L350.41 166.94 L351.04 166.71 L351.68 166.44 L352.31 166.13 L352.95 165.78 L353.59 165.39 L354.22 164.96 L354.86 164.49 L355.49 163.98 L356.13 163.43 L356.76 162.84 L357.40 162.22 L358.03 161.56 L358.67 160.87 L359.30 160.15 L359.94 159.40 L360.57 158.61 L361.21 157.79 L361.85 156.95 L362.48 156.08 L363.12 155.18 L363.75 154.26 L364.39 153.32 L365.02 152.35 L365.66 151.37 L366.29 150.37 L366.93 149.35 L367.56 148.31 L368.20 147.26 L368.83 146.20 L369.47 145.13 L370.10 144.05 L370.74 142.96 L371.38 141.87 L372.01 140.78 L372.65 139.68 L373.28 138.58 L373.92 137.48 L374.55 136.39 L375.19 135.30 L375.82 134.21 L376.46 133.14 L377.09 132.07 L377.73 131.02 L378.36 129.98 L379.00 128.95 L379.64 127.94 L380.27 126.95 L380.91 125.98 L381.54 125.03 L382.18 124.10 L382.81 123.19 L383.45 122.31 L384.08 121.45 L384.72 120.63 L385.35 119.83 L385.99 119.06 L386.62 118.33 L387.26 117.62 L387.90 116.95 L388.53 116.32 L389.17 115.72 L389.80 115.15 L390.44 114.63 L391.07 114.14 L391.71 113.69 L392.34 113.28 L392.98 112.92 L393.61 112.59 L394.25 112.30 L394.88 112.06 L395.52 111.86 L396.16 111.70 L396.79 111.58 L397.43 111.51 L398.06 111.48 L398.70 111.49 L399.33 111.55 L399.97 111.65 L400.60 111.79 L401.24 111.97 L401.87 112.20 L402.51 112.47 L403.14 112.78 L403.78 113.13 L404.42 113.52 L405.05 113.96 L405.69 114.43 L406.32 114.94 L406.96 115.49 L407.59 116.07 L408.23 116.69 L408.86 117.35 L409.50 118.04 L410.13 118.76 L410.77 119.52 L411.40 120.30 L412.04 121.12 L412.67 121.96 L413.31 122.83 L413.95 123.73 L414.58 124.65 L415.22 125.59 L415.85 126.56 L416.49 127.54 L417.12 128.55 L417.76 129.57 L418.39 130.60 L419.03 131.65 L419.66 132.71 L420.30 133.78 L420.93 134.86 L421.57 135.95 L422.21 137.04 L422.84 138.14 L423.48 139.24 L424.11 140.34 L424.75 141.43 L425.38 142.53 L426.02 143.62 L426.65 144.70 L427.29 145.77 L427.92 146.84 L428.56 147.89 L429.19 148.93 L429.83 149.96 L430.47 150.97 L431.10 151.96 L431.74 152.94 L432.37 153.89 L433.01 154.82 L433.64 155.72 L434.28 156.61 L434.91 157.46 L435.55 158.29 L436.18 159.09 L436.82 159.85 L437.45 160.59 L438.09 161.29 L438.73 161.96 L439.36 162.60 L440.00 163.20 L440.63 163.76 L441.27 164.29 L441.90 164.77 L442.54 165.22 L443.17 165.63 L443.81 166.00 L444.44 166.33 L445.08 166.61 L445.71 166.85 L446.35 167.06 L446.99 167.22 L447.62 167.33 L448.26 167.41 L448.89 167.44 L449.53 167.42 L450.16 167.37 L450.80 167.27 L451.43 167.13 L452.07 166.94 L452.70 166.71 L453.34 166.44 L453.97 166.13 L454.61 165.78 L455.25 165.39 L455.88 164.96 L456.52 164.49 L457.15 163.98 L457.79 163.43 L458.42 162.84 L459.06 162.22 L459.69 161.56 L460.33 160.87 L460.96 160.15 L461.60 159.40 L462.23 158.61 L462.87 157.79 L463.50 156.95 L464.14 156.08 L464.78 155.18 L465.41 154.26 L466.05 153.32 L466.68 152.35 L467.32 151.37 L467.95 150.37 L468.59 149.35 L469.22 148.31 L469.86 147.26 L470.49 146.20 L471.13 145.13 L471.76 144.05 L472.40 142.96 L473.04 141.87 L473.67 140.78 L474.31 139.68 L474.94 138.58 L475.58 137.48 L476.21 136.39 L476.85 135.30 L477.48 134.21 L478.12 133.14 L478.75 132.07 L479.39 131.02 L480.02 129.98 L480.66 128.95 L481.30 127.94 L481.93 126.95 L482.57 125.98 L483.20 125.03 L483.84 124.10 L484.47 123.19 L485.11 122.31 L485.74 121.45 L486.38 120.63 L487.01 119.83 L487.65 119.06 L488.28 118.33 L488.92 117.62 L489.56 116.95 L490.19 116.32 L490.83 115.72 L491.46 115.15 L492.10 114.63 L492.73 114.14 L493.37 113.69 L494.00 113.28 L494.64 112.92 L495.27 112.59 L495.91 112.30 L496.54 112.06 L497.18 111.86 L497.82 111.70 L498.45 111.58 L499.09 111.51 L499.72 111.48 L500.36 111.49 L500.99 111.55 L501.63 111.65 L502.26 111.79 L502.90 111.97 L503.53 112.20 L504.17 112.47 L504.80 112.78 L505.44 113.13 L506.08 113.52 L506.71 113.96 L507.35 114.43 L507.98 114.94 L508.62 115.49 L509.25 116.07 L509.89 116.69 L510.52 117.35 L511.16 118.04 L511.79 118.76 L512.43 119.52 L513.06 120.30 L513.70 121.12 L514.34 121.96 L514.97 122.83 L515.61 123.73 L516.24 124.65 L516.88 125.59 L517.51 126.56 L518.15 127.54 L518.78 128.55 L519.42 129.57 L520.05 130.60 L520.69 131.65 L521.32 132.71 L521.96 133.78 L522.59 134.86 L523.23 135.95 L523.87 137.04 L524.50 138.14 L525.14 139.24 L525.77 140.34 L526.41 141.43 L527.04 142.53 L527.68 143.62 L528.31 144.70 L528.95 145.77 L529.58 146.84 L530.22 147.89 L530.85 148.93 L531.49 149.96 L532.13 150.97 L532.76 151.96 L533.40 152.94 L534.03 153.89 L534.67 154.82 L535.30 155.72 L535.94 156.61 L536.57 157.46 L537.21 158.29 L537.84 159.09 L538.48 159.85 L539.11 160.59 L539.75 161.29" stroke="#EDB120" stroke-width="1.3"/>
<path d="M183.89 118.64 L183.94 118.57 L183.95 118.55 L184.02 118.46 L184.08 118.38 L184.15 118.29 L184.21 117.58 L184.28 115.81 L184.34 113.07 L184.41 109.55 L184.47 105.44 L184.53 101.00 L184.58 98.14 L184.60 96.52 L184.66 92.25 L184.73 88.48 L184.79 85.42 L184.86 83.27 L184.92 82.15 L184.99 82.00 L185.05 82.20 L185.11 82.67 L185.18 83.38 L185.21 83.83 L185.24 84.34 L185.31 85.54 L185.37 86.95 L185.44 88.58 L185.50 90.39 L185.57 92.37 L185.63 94.50 L185.69 96.76 L185.76 99.12 L185.82 101.56 L185.85 102.44 L185.89 104.05 L185.95 106.57 L186.02 109.08 L186.08 111.57 L186.15 114.01 L186.21 116.37 L186.27 118.62 L186.34 120.75 L186.40 122.73 L186.47 124.54 L186.48 124.90 L186.53 126.15 L186.60 127.56 L186.66 128.75 L186.73 129.71 L186.79 130.42 L186.85 130.87 L186.92 131.07 L186.98 131.03 L187.05 130.88 L187.11 130.64 L187.12 130.62 L187.18 130.31 L187.24 129.90 L187.31 129.41 L187.37 128.83 L187.43 128.18 L187.50 127.46 L187.56 126.67 L187.63 125.82 L187.69 124.92 L187.75 124.02 L187.76 123.96 L187.82 122.96 L187.89 121.92 L187.95 120.86 L188.01 119.77 L188.08 118.66 L188.14 117.55 L188.21 116.44 L188.27 115.33 L188.34 114.24 L188.39 113.38 L188.40 113.17 L188.47 112.13 L188.53 111.12 L188.59 110.16 L188.66 109.25 L188.72 108.39 L188.79 107.60 L188.85 106.87 L188.92 106.21 L188.98 105.63 L189.02 105.30 L189.05 105.13 L189.11 104.72 L189.17 104.38 L189.24 104.14 L189.30 103.98 L189.37 103.92 L189.43 103.90 L189.50 103.92 L189.56 103.98 L189.62 104.07 L189.66 104.13 L189.69 104.19 L189.75 104.35 L189.82 104.54 L189.88 104.77 L189.95 105.02 L190.01 105.29 L190.08 105.59 L190.14 105.91 L190.20 106.25 L190.27 106.61 L190.29 106.75 L190.33 106.98 L190.40 107.36 L190.46 107.75 L190.53 108.15 L190.59 108.54 L190.66 108.93 L190.72 109.32 L190.78 109.71 L190.85 110.08 L190.91 110.43 L190.93 110.52 L190.98 110.77 L191.04 111.10 L191.11 111.40 L191.17 111.67 L191.24 111.92 L191.30 112.15 L191.36 112.34 L191.43 112.50 L191.49 112.63 L191.56 112.73 L191.56 112.73 L191.62 112.79 L191.69 112.81 L191.75 112.80 L191.82 112.76 L191.88 112.71 L191.94 112.63 L192.01 112.55 L192.07 112.44 L192.14 112.32 L192.20 112.19 L192.20 112.19 L192.27 112.04 L192.33 111.88 L192.40 111.71 L192.46 111.53 L192.52 111.34 L192.59 111.15 L192.65 110.95 L192.72 110.76 L192.78 110.56 L192.84 110.39 L192.85 110.36 L192.91 110.16 L192.98 109.97 L193.04 109.79 L193.10 109.62 L193.17 109.45 L193.23 109.30 L193.30 109.16 L193.36 109.03 L193.43 108.92 L193.47 108.86 L193.49 108.83 L193.56 108.75 L193.62 108.69 L193.68 108.65 L193.75 108.62 L193.81 108.61 L193.88 108.60 L193.94 108.59 L194.01 108.58 L194.07 108.57 L194.11 108.57 L194.14 108.56 L194.20 108.56 L194.26 108.56 L194.33 108.55 L194.39 108.55 L194.46 108.55 L194.52 108.55 L194.59 108.56 L194.65 108.56 L194.72 108.57 L194.74 108.57 L194.78 108.58 L194.84 108.58 L194.91 108.59 L194.97 108.61 L195.04 108.62 L195.10 108.63 L195.17 108.65 L195.23 108.66 L195.30 108.68 L195.36 108.70 L195.38 108.70 L195.42 108.72 L195.49 108.74 L195.55 108.76 L195.62 108.78 L195.68 108.81 L195.75 108.83 L195.81 108.86 L195.88 108.88 L195.94 108.91 L196.00 108.94 L196.01 108.94 L196.07 108.97 L196.13 109.00 L196.20 109.03 L196.26 109.06 L196.33 109.09 L196.39 109.12 L196.46 109.16 L196.52 109.19 L196.58 109.23 L196.65 109.26 L196.65 109.26 L196.71 109.30 L196.78 109.34 L196.84 109.37 L196.91 109.41 L196.97 109.45 L197.04 109.49 L197.10 109.52 L197.16 109.56 L197.23 109.60 L197.28 109.64 L197.29 109.64 L197.36 109.68 L197.42 109.72 L197.49 109.76 L197.55 109.80 L197.62 109.84 L197.68 109.88 L197.74 109.92 L197.81 109.96 L197.87 110.00 L197.92 110.03 L197.94 110.04 L198.00 110.08 L198.07 110.12 L198.13 110.16 L198.20 110.20 L198.26 110.24 L198.32 110.28 L198.39 110.32 L198.45 110.36 L198.52 110.40 L198.55 110.42 L198.58 110.44 L198.65 110.47 L198.71 110.51 L198.78 110.55 L198.84 110.59 L198.90 110.62 L198.97 110.66 L199.03 110.70 L199.10 110.73 L199.16 110.77 L199.19 110.78 L199.23 110.80 L199.29 110.83 L199.36 110.87 L199.42 110.90 L199.48 110.93 L199.55 110.96 L199.61 111.00 L199.68 111.03 L199.74 111.06 L199.81 111.09 L199.82 111.10 L199.87 111.12 L199.94 111.15 L200.00 111.18 L200.06 111.21 L200.13 111.24 L200.19 111.27 L200.26 111.30 L200.32 111.33 L200.39 111.37 L200.45 111.40 L200.46 111.41 L200.52 111.43 L200.58 111.47 L200.64 111.50 L200.71 111.54 L200.77 111.57 L200.84 111.61 L200.90 111.65 L200.97 111.68 L201.03 111.72 L201.10 111.76 L201.10 111.76 L201.16 111.80 L201.22 111.84 L201.29 111.87 L201.35 111.91 L201.42 111.95 L201.48 111.99 L201.55 112.04 L201.61 112.08 L201.67 112.12 L201.73 112.15 L201.74 112.16 L201.80 112.20 L201.87 112.25 L201.93 112.29 L202.00 112.33 L202.06 112.38 L202.13 112.42 L202.19 112.47 L202.25 112.51 L202.32 112.56 L202.37 112.59 L202.38 112.60 L202.45 112.65 L202.51 112.70 L202.58 112.75 L202.64 112.79 L202.71 112.84 L202.77 112.89 L202.83 112.94 L202.90 112.99 L202.96 113.04 L203.00 113.07 L203.03 113.09 L203.09 113.14 L203.16 113.19 L203.22 113.25 L203.29 113.30 L203.35 113.35 L203.41 113.40 L203.48 113.46 L203.54 113.51 L203.61 113.57 L203.64 113.59 L203.67 113.62 L203.74 113.68 L203.80 113.73 L203.87 113.79 L203.93 113.84 L203.99 113.90 L204.06 113.96 L204.12 114.02 L204.19 114.07 L204.25 114.13 L204.27 114.15 L204.32 114.19 L204.38 114.25 L204.45 114.31 L204.51 114.37 L204.57 114.43 L204.64 114.49 L204.70 114.55 L204.77 114.61 L204.83 114.68 L204.90 114.74 L204.91 114.75 L204.96 114.80 L205.03 114.87 L205.09 114.93 L205.15 114.99 L205.22 115.06 L205.28 115.12 L205.35 115.19 L205.41 115.25 L205.48 115.32 L205.54 115.38 L205.54 115.39 L205.61 115.45 L205.67 115.52 L205.73 115.59 L205.80 115.65 L205.86 115.72 L205.93 115.79 L205.99 115.86 L206.06 115.93 L206.12 116.00 L206.18 116.06 L206.19 116.07 L206.25 116.14 L206.31 116.21 L206.38 116.28 L206.44 116.35 L206.51 116.42 L206.57 116.50 L206.64 116.57 L206.70 116.64 L206.77 116.72 L206.81 116.77 L206.83 116.79 L206.89 116.86 L206.96 116.94 L207.02 117.01 L207.09 117.09 L207.15 117.16 L207.22 117.24 L207.28 117.31 L207.35 117.39 L207.41 117.47 L207.45 117.51 L207.47 117.55 L207.54 117.62 L207.60 117.70 L207.67 117.78 L207.73 117.86 L207.80 117.94 L207.86 118.02 L207.93 118.10 L207.99 118.18 L208.05 118.26 L208.08 118.29 L208.12 118.34 L208.18 118.42 L208.25 118.50 L208.31 118.58 L208.38 118.66 L208.44 118.75 L208.51 118.83 L208.57 118.91 L208.63 118.99 L208.70 119.08 L208.72 119.11 L208.76 119.16 L208.83 119.25 L208.89 119.33 L208.96 119.42 L209.02 119.50 L209.09 119.59 L209.15 119.67 L209.21 119.76 L209.28 119.85 L209.34 119.93 L209.36 119.95 L209.41 120.02 L209.47 120.11 L209.54 120.19 L209.60 120.28 L209.67 120.37 L209.73 120.46 L209.79 120.55 L209.86 120.64 L209.92 120.73 L209.99 120.82 L209.99 120.82 L210.05 120.91 L210.12 121.00 L210.18 121.09 L210.25 121.18 L210.31 121.27 L210.37 121.36 L210.44 121.45 L210.50 121.55 L210.57 121.64 L210.63 121.72 L210.63 121.73 L210.70 121.82 L210.76 121.92 L210.83 122.01 L210.89 122.11 L210.95 122.20 L211.02 122.29 L211.08 122.39 L211.15 122.48 L211.21 122.58 L211.26 122.65 L211.28 122.67 L211.34 122.77 L211.41 122.87 L211.47 122.96 L211.53 123.06 L211.60 123.16 L211.66 123.25 L211.73 123.35 L211.79 123.45 L211.86 123.55 L211.90 123.61 L211.92 123.64 L211.99 123.74 L212.05 123.84 L212.11 123.94 L212.18 124.04 L212.24 124.14 L212.31 124.24 L212.37 124.34 L212.44 124.44 L212.50 124.54 L212.53 124.59 L212.57 124.64 L212.63 124.74 L212.69 124.84 L212.76 124.94 L212.82 125.04 L212.89 125.14 L212.95 125.25 L213.02 125.35 L213.08 125.45 L213.14 125.55 L213.17 125.59 L213.21 125.66 L213.27 125.76 L213.34 125.86 L213.40 125.96 L213.47 126.07 L213.53 126.17 L213.60 126.28 L213.66 126.38 L213.72 126.49 L213.79 126.59 L213.80 126.61 L213.85 126.69 L213.92 126.80 L213.98 126.91 L214.05 127.01 L214.11 127.12 L214.18 127.22 L214.24 127.33 L214.30 127.43 L214.37 127.54 L214.43 127.65 L214.44 127.65 L214.50 127.75 L214.56 127.86 L214.63 127.97 L214.69 128.08 L214.76 128.18 L214.82 128.29 L214.88 128.40 L214.95 128.51 L215.01 128.62 L215.07 128.72 L215.08 128.72 L215.14 128.83 L215.21 128.94 L215.27 129.05 L215.34 129.16 L215.40 129.27 L215.46 129.38 L215.53 129.49 L215.59 129.60 L215.66 129.71 L215.71 129.79 L215.72 129.82 L215.79 129.93 L215.85 130.04 L215.92 130.15 L215.98 130.26 L216.04 130.37 L216.11 130.48 L216.17 130.59 L216.24 130.70 L216.30 130.82 L216.34 130.89 L216.37 130.93 L216.43 131.04 L216.50 131.15 L216.56 131.26 L216.62 131.37 L216.69 131.49 L216.75 131.60 L216.82 131.71 L216.88 131.82 L216.95 131.94 L216.98 131.99 L217.01 132.05 L217.08 132.16 L217.14 132.28 L217.20 132.39 L217.27 132.50 L217.33 132.62 L217.40 132.73 L217.46 132.84 L217.53 132.96 L217.59 133.07 L217.61 133.11 L217.66 133.18 L217.72 133.30 L217.78 133.41 L217.85 133.53 L217.91 133.64 L217.98 133.76 L218.04 133.87 L218.11 133.98 L218.17 134.10 L218.24 134.21 L218.25 134.24 L218.30 134.33 L218.36 134.44 L218.43 134.56 L218.49 134.67 L218.56 134.79 L218.62 134.90 L218.69 135.02 L218.75 135.13 L218.82 135.25 L218.88 135.37 L218.89 135.38 L218.94 135.48 L219.01 135.60 L219.07 135.71 L219.14 135.83 L219.20 135.94 L219.27 136.06 L219.33 136.18 L219.40 136.29 L219.46 136.41 L219.52 136.52 L219.52 136.52 L219.59 136.64 L219.65 136.76 L219.72 136.87 L219.78 136.99 L219.85 137.10 L219.91 137.22 L219.98 137.34 L220.04 137.45 L220.10 137.57 L220.16 137.66 L220.17 137.69 L220.23 137.80 L220.30 137.92 L220.36 138.04 L220.43 138.15 L220.49 138.27 L220.56 138.39 L220.62 138.50 L220.68 138.62 L220.75 138.74 L220.79 138.81 L220.81 138.85 L220.88 138.97 L220.94 139.09 L221.01 139.20 L221.07 139.32 L221.14 139.44 L221.20 139.55 L221.26 139.67 L221.33 139.79 L221.39 139.90 L221.43 139.96 L221.46 140.02 L221.52 140.13 L221.59 140.25 L221.65 140.37 L221.72 140.48 L221.78 140.60 L221.84 140.72 L221.91 140.83 L221.97 140.95 L222.04 141.07 L222.06 141.11 L222.10 141.18 L222.17 141.30 L222.23 141.42 L222.30 141.53 L222.36 141.65 L222.42 141.77 L222.49 141.88 L222.55 142.00 L222.62 142.11 L222.68 142.23 L222.70 142.26 L222.75 142.35 L222.81 142.46 L222.88 142.58 L222.94 142.69 L223.00 142.81 L223.07 142.93 L223.13 143.04 L223.20 143.16 L223.26 143.27 L223.33 143.39 L223.33 143.40 L223.39 143.51 L223.46 143.62 L223.52 143.74 L223.58 143.85 L223.65 143.97 L223.71 144.08 L223.78 144.20 L223.84 144.31 L223.91 144.43 L223.97 144.54 L223.97 144.54 L224.04 144.66 L224.10 144.77 L224.16 144.89 L224.23 145.00 L224.29 145.12 L224.36 145.23 L224.42 145.34 L224.49 145.46 L224.55 145.57 L224.60 145.67 L224.62 145.69 L224.68 145.80 L224.74 145.91 L224.81 146.03 L224.87 146.14 L224.94 146.26 L225.00 146.37 L225.07 146.48 L225.13 146.60 L225.19 146.71 L225.24 146.79 L225.26 146.82 L225.32 146.93 L225.39 147.05 L225.45 147.16 L225.52 147.27 L225.58 147.38 L225.65 147.50 L225.71 147.61 L225.77 147.72 L225.84 147.83 L225.87 147.89 L225.90 147.94 L225.97 148.06 L226.03 148.17 L226.10 148.28 L226.16 148.39 L226.23 148.50 L226.29 148.61 L226.35 148.72 L226.42 148.83 L226.48 148.94 L226.51 148.99 L226.55 149.05 L226.61 149.16 L226.68 149.27 L226.74 149.38 L226.81 149.49 L226.87 149.60 L226.93 149.71 L227.00 149.82 L227.06 149.93 L227.13 150.04 L227.15 150.07 L227.19 150.15 L227.26 150.26 L227.32 150.37 L227.39 150.47 L227.45 150.58 L227.51 150.69 L227.58 150.80 L227.64 150.90 L227.71 151.01 L227.77 151.12 L227.78 151.13 L227.84 151.23 L227.90 151.33 L227.97 151.44 L228.03 151.55 L228.09 151.65 L228.16 151.76 L228.22 151.86 L228.29 151.97 L228.35 152.07 L228.42 152.18 L228.42 152.18 L228.48 152.28 L228.55 152.39 L228.61 152.49 L228.67 152.60 L228.74 152.70 L228.80 152.81 L228.87 152.91 L228.93 153.01 L229.00 153.12 L229.05 153.20 L229.06 153.22 L229.13 153.32 L229.19 153.43 L229.25 153.53 L229.32 153.63 L229.38 153.73 L229.45 153.83 L229.51 153.94 L229.58 154.04 L229.64 154.14 L229.69 154.21 L229.71 154.24 L229.77 154.34 L229.83 154.44 L229.90 154.54 L229.96 154.64 L230.03 154.74 L230.09 154.84 L230.16 154.94 L230.22 155.04 L230.29 155.14 L230.32 155.19 L230.35 155.23 L230.41 155.33 L230.48 155.43 L230.54 155.53 L230.61 155.63 L230.67 155.72 L230.74 155.82 L230.80 155.92 L230.87 156.01 L230.93 156.11 L230.96 156.15 L230.99 156.20 L231.06 156.30 L231.12 156.40 L231.19 156.49 L231.25 156.58 L231.32 156.68 L231.38 156.77 L231.45 156.87 L231.51 156.96 L231.57 157.05 L231.59 157.08 L231.64 157.15 L231.70 157.24 L231.77 157.33 L231.83 157.43 L231.90 157.52 L231.96 157.61 L232.03 157.70 L232.09 157.79 L232.15 157.88 L232.22 157.97 L232.23 157.99 L232.28 158.06 L232.35 158.15 L232.41 158.24 L232.48 158.33 L232.54 158.42 L232.61 158.51 L232.67 158.60 L232.73 158.69 L232.80 158.77 L232.86 158.86 L232.86 158.86 L232.93 158.95 L232.99 159.04 L233.06 159.12 L233.12 159.21 L233.19 159.30 L233.25 159.38 L233.31 159.47 L233.38 159.55 L233.44 159.64 L233.50 159.71 L233.51 159.72 L233.57 159.80 L233.64 159.89 L233.70 159.97 L233.77 160.05 L233.83 160.14 L233.89 160.22 L233.96 160.30 L234.02 160.38 L234.09 160.47 L234.13 160.52 L234.15 160.55 L234.22 160.63 L234.28 160.71 L234.35 160.79 L234.41 160.87 L234.47 160.95 L234.54 161.03 L234.60 161.11 L234.67 161.18 L234.73 161.26 L234.77 161.31 L234.80 161.34 L234.86 161.42 L234.93 161.49 L234.99 161.57 L235.05 161.65 L235.12 161.72 L235.18 161.80 L235.25 161.87 L235.31 161.95 L235.38 162.02 L235.41 162.06 L235.44 162.10 L235.51 162.17 L235.57 162.24 L235.63 162.32 L235.70 162.39 L235.76 162.46 L235.83 162.54 L235.89 162.61 L235.96 162.68 L236.02 162.75 L236.04 162.77 L236.09 162.82 L236.15 162.89 L236.21 162.96 L236.28 163.03 L236.34 163.10 L236.41 163.17 L236.47 163.24 L236.54 163.30 L236.60 163.37 L236.66 163.44 L236.68 163.45 L236.73 163.50 L236.79 163.57 L236.86 163.64 L236.92 163.70 L236.99 163.77 L237.05 163.83 L237.12 163.90 L237.18 163.96 L237.24 164.03 L237.31 164.09 L237.31 164.09 L237.37 164.15 L237.44 164.21 L237.50 164.28 L237.57 164.34 L237.63 164.40 L237.70 164.46 L237.76 164.52 L237.82 164.58 L237.89 164.64 L237.95 164.69 L237.95 164.70 L238.02 164.76 L238.08 164.82 L238.15 164.88 L238.21 164.93 L238.28 164.99 L238.34 165.05 L238.40 165.10 L238.47 165.16 L238.53 165.22 L238.58 165.26 L238.60 165.27 L238.66 165.33 L238.73 165.38 L238.79 165.44 L238.86 165.49 L238.92 165.54 L238.98 165.60 L239.05 165.65 L239.11 165.70 L239.18 165.75 L239.22 165.78 L239.24 165.80 L239.31 165.85 L239.37 165.90 L239.44 165.95 L239.50 166.00 L239.56 166.05 L239.63 166.10 L239.69 166.15 L239.76 166.20 L239.82 166.24 L239.85 166.27 L239.89 166.29 L239.95 166.34 L240.02 166.38 L240.08 166.43 L240.14 166.48 L240.21 166.52 L240.27 166.56 L240.34 166.61 L240.40 166.65 L240.47 166.70 L240.49 166.71 L240.53 166.74 L240.60 166.78 L240.66 166.82 L240.72 166.86 L240.79 166.90 L240.85 166.95 L240.92 166.99 L240.98 167.02 L241.05 167.06 L241.11 167.10 L241.12 167.11 L241.18 167.14 L241.24 167.18 L241.30 167.22 L241.37 167.25 L241.43 167.29 L241.50 167.33 L241.56 167.36 L241.63 167.40 L241.69 167.43 L241.76 167.47 L241.76 167.47 L241.82 167.50 L241.88 167.53 L241.95 167.57 L242.01 167.60 L242.08 167.63 L242.14 167.66 L242.21 167.69 L242.27 167.73 L242.34 167.76 L242.39 167.78 L242.40 167.79 L242.46 167.82 L242.53 167.84 L242.59 167.87 L242.66 167.90 L242.72 167.93 L242.79 167.96 L242.85 167.98 L242.92 168.01 L242.98 168.03 L243.03 168.05 L243.04 168.06 L243.11 168.08 L243.17 168.11 L243.24 168.13 L243.30 168.16 L243.37 168.18 L243.43 168.20 L243.50 168.23 L243.56 168.25 L243.62 168.27 L243.67 168.28 L243.69 168.29 L243.75 168.31 L243.82 168.33 L243.88 168.35 L243.95 168.37 L244.01 168.39 L244.08 168.40 L244.14 168.42 L244.20 168.44 L244.27 168.46 L244.30 168.46 L244.33 168.47 L244.40 168.49 L244.46 168.50 L244.53 168.52 L244.59 168.53 L244.66 168.55 L244.72 168.56 L244.78 168.57 L244.85 168.59 L244.91 168.60 L244.94 168.60 L244.98 168.61 L245.04 168.62 L245.11 168.63 L245.17 168.64 L245.24 168.65 L245.30 168.66 L245.36 168.67 L245.43 168.68 L245.49 168.69 L245.56 168.69 L245.57 168.69 L245.62 168.70 L245.69 168.71 L245.75 168.71 L245.82 168.72 L245.88 168.72 L245.94 168.73 L246.01 168.73 L246.07 168.74 L246.14 168.74 L246.20 168.74 L246.21 168.74 L246.27 168.74 L246.33 168.75 L246.40 168.75 L246.46 168.75 L246.52 168.75 L246.59 168.75 L246.65 168.75 L246.72 168.75 L246.78 168.75 L246.84 168.75 L246.85 168.75 L246.91 168.74 L246.98 168.74 L247.04 168.74 L247.10 168.73 L247.17 168.73 L247.23 168.72 L247.30 168.72 L247.36 168.71 L247.43 168.71 L247.48 168.70 L247.49 168.70 L247.56 168.69 L247.62 168.69 L247.68 168.68 L247.75 168.67 L247.81 168.66 L247.88 168.65 L247.94 168.64 L248.01 168.63 L248.07 168.62 L248.11 168.62 L248.14 168.61 L248.20 168.60 L248.26 168.59 L248.33 168.58 L248.39 168.56 L248.46 168.55 L248.52 168.54 L248.59 168.52 L248.65 168.51 L248.71 168.49 L248.75 168.48 L248.78 168.48 L248.84 168.46 L248.91 168.44 L248.97 168.43 L249.04 168.41 L249.10 168.39 L249.17 168.37 L249.23 168.35 L249.29 168.33 L249.36 168.31 L249.38 168.31 L249.42 168.29 L249.49 168.27 L249.55 168.25 L249.62 168.23 L249.68 168.21 L249.75 168.18 L249.81 168.16 L249.87 168.14 L249.94 168.11 L250.00 168.09 L250.02 168.08 L250.07 168.06 L250.13 168.04 L250.20 168.01 L250.26 167.99 L250.33 167.96 L250.39 167.93 L250.45 167.91 L250.52 167.88 L250.58 167.85 L250.65 167.82 L250.65 167.82 L250.71 167.79 L250.78 167.76 L250.84 167.73 L250.91 167.70 L250.97 167.67 L251.03 167.64 L251.10 167.61 L251.16 167.57 L251.23 167.54 L251.29 167.51 L251.29 167.51 L251.36 167.47 L251.42 167.44 L251.49 167.40 L251.55 167.37 L251.61 167.33 L251.68 167.30 L251.74 167.26 L251.81 167.22 L251.87 167.19 L251.93 167.16 L251.94 167.15 L252.00 167.11 L252.07 167.07 L252.13 167.03 L252.19 166.99 L252.26 166.95 L252.32 166.91 L252.39 166.87 L252.45 166.83 L252.52 166.79 L252.56 166.76 L252.58 166.75 L252.65 166.70 L252.71 166.66 L252.77 166.62 L252.84 166.57 L252.90 166.53 L252.97 166.48 L253.03 166.44 L253.10 166.39 L253.16 166.35 L253.20 166.32 L253.23 166.30 L253.29 166.25 L253.35 166.21 L253.42 166.16 L253.48 166.11 L253.55 166.06 L253.61 166.01 L253.68 165.96 L253.74 165.91 L253.81 165.86 L253.83 165.84 L253.87 165.81 L253.93 165.76 L254.00 165.71 L254.06 165.66 L254.13 165.61 L254.19 165.55 L254.26 165.50 L254.32 165.45 L254.39 165.39 L254.45 165.34 L254.47 165.32 L254.51 165.28 L254.58 165.23 L254.64 165.17 L254.71 165.12 L254.77 165.06 L254.84 165.00 L254.90 164.95 L254.97 164.89 L255.03 164.83 L255.09 164.77 L255.10 164.76 L255.16 164.71 L255.22 164.65 L255.29 164.59 L255.35 164.53 L255.42 164.47 L255.48 164.41 L255.55 164.35 L255.61 164.29 L255.67 164.23 L255.74 164.17 L255.74 164.16 L255.80 164.10 L255.87 164.04 L255.93 163.97 L256.00 163.91 L256.06 163.85 L256.13 163.78 L256.19 163.72 L256.25 163.65 L256.32 163.58 L256.37 163.53 L256.38 163.52 L256.45 163.45 L256.51 163.38 L256.58 163.32 L256.64 163.25 L256.71 163.18 L256.77 163.11 L256.83 163.04 L256.90 162.97 L256.96 162.90 L257.01 162.85 L257.03 162.83 L257.09 162.76 L257.16 162.69 L257.22 162.62 L257.29 162.55 L257.35 162.48 L257.41 162.40 L257.48 162.33 L257.54 162.26 L257.61 162.19 L257.64 162.14 L257.67 162.11 L257.74 162.04 L257.80 161.96 L257.87 161.89 L257.93 161.81 L257.99 161.74 L258.06 161.66 L258.12 161.59 L258.19 161.51 L258.25 161.43 L258.28 161.40 L258.32 161.35 L258.38 161.28 L258.45 161.20 L258.51 161.12 L258.57 161.04 L258.64 160.96 L258.70 160.88 L258.77 160.80 L258.83 160.72 L258.90 160.64 L258.91 160.62 L258.96 160.56 L259.03 160.48 L259.09 160.40 L259.15 160.32 L259.22 160.24 L259.28 160.15 L259.35 160.07 L259.41 159.99 L259.48 159.90 L259.54 159.82 L259.55 159.81 L259.61 159.74 L259.67 159.65 L259.73 159.57 L259.80 159.48 L259.86 159.40 L259.93 159.31 L259.99 159.23 L260.06 159.14 L260.12 159.05 L260.19 158.97 L260.82 158.09 L261.46 157.19 L262.09 156.26 L262.73 155.31 L263.36 154.33 L264.00 153.33 L264.63 152.30 L265.27 151.26 L265.90 150.20 L266.54 149.12 L267.17 148.03 L267.81 146.92 L268.44 145.80 L269.08 144.67 L269.72 143.54 L270.35 142.40 L270.99 141.25 L271.62 140.10 L272.26 138.95 L272.89 137.80 L273.53 136.65 L274.16 135.51 L274.80 134.38 L275.43 133.25 L276.07 132.13 L276.70 131.02 L277.34 129.93 L277.98 128.85 L278.61 127.78 L279.25 126.74 L279.88 125.71 L280.52 124.70 L281.15 123.72 L281.79 122.76 L282.42 121.83 L283.06 120.93 L283.69 120.05 L284.33 119.20 L284.96 118.39 L285.60 117.61 L286.24 116.86 L286.87 116.14 L287.51 115.46 L288.14 114.82 L288.78 114.22 L289.41 113.66 L290.05 113.13 L290.68 112.65 L291.32 112.20 L291.95 111.80 L292.59 111.45 L293.22 111.13 L293.86 110.86 L294.50 110.63 L295.13 110.45 L295.77 110.31 L296.40 110.22 L297.04 110.17 L297.67 110.17 L298.31 110.21 L298.94 110.30 L299.58 110.43 L300.21 110.61 L300.85 110.83 L301.48 111.10 L302.12 111.41 L302.76 111.76 L303.39 112.15 L304.03 112.59 L304.66 113.07 L305.30 113.59 L305.93 114.15 L306.57 114.75 L307.20 115.39 L307.84 116.06 L308.47 116.77 L309.11 117.51 L309.74 118.29 L310.38 119.11 L311.01 119.95 L311.65 120.82 L312.29 121.72 L312.92 122.65 L313.56 123.61 L314.19 124.59 L314.83 125.59 L315.46 126.61 L316.10 127.65 L316.73 128.72 L317.37 129.79 L318.00 130.89 L318.64 131.99 L319.27 133.11 L319.91 134.24 L320.55 135.38 L321.18 136.52 L321.82 137.66 L322.45 138.81 L323.09 139.96 L323.72 141.11 L324.36 142.26 L324.99 143.40 L325.63 144.54 L326.26 145.67 L326.90 146.79 L327.53 147.89 L328.17 148.99 L328.81 150.07 L329.44 151.13 L330.08 152.18 L330.71 153.20 L331.35 154.21 L331.98 155.19 L332.62 156.15 L333.25 157.08 L333.89 157.99 L334.52 158.86 L335.16 159.71 L335.79 160.52 L336.43 161.31 L337.07 162.06 L337.70 162.77 L338.34 163.45 L338.97 164.09 L339.61 164.69 L340.24 165.26 L340.88 165.78 L341.51 166.27 L342.15 166.71 L342.78 167.11 L343.42 167.47 L344.05 167.78 L344.69 168.05 L345.33 168.28 L345.96 168.46 L346.60 168.60 L347.23 168.69 L347.87 168.74 L348.50 168.75 L349.14 168.70 L349.77 168.62 L350.41 168.48 L351.04 168.31 L351.68 168.08 L352.31 167.82 L352.95 167.51 L353.59 167.16 L354.22 166.76 L354.86 166.32 L355.49 165.84 L356.13 165.32 L356.76 164.76 L357.40 164.17 L358.03 163.53 L358.67 162.85 L359.30 162.14 L359.94 161.40 L360.57 160.62 L361.21 159.81 L361.85 158.97 L362.48 158.09 L363.12 157.19 L363.75 156.26 L364.39 155.31 L365.02 154.33 L365.66 153.33 L366.29 152.30 L366.93 151.26 L367.56 150.20 L368.20 149.12 L368.83 148.03 L369.47 146.92 L370.10 145.80 L370.74 144.67 L371.38 143.54 L372.01 142.40 L372.65 141.25 L373.28 140.10 L373.92 138.95 L374.55 137.80 L375.19 136.65 L375.82 135.51 L376.46 134.38 L377.09 133.25 L377.73 132.13 L378.36 131.02 L379.00 129.93 L379.64 128.85 L380.27 127.78 L380.91 126.74 L381.54 125.71 L382.18 124.70 L382.81 123.72 L383.45 122.76 L384.08 121.83 L384.72 120.93 L385.35 120.05 L385.99 119.20 L386.62 118.39 L387.26 117.61 L387.90 116.86 L388.53 116.14 L389.17 115.46 L389.80 114.82 L390.44 114.22 L391.07 113.66 L391.71 113.13 L392.34 112.65 L392.98 112.20 L393.61 111.80 L394.25 111.45 L394.88 111.13 L395.52 110.86 L396.16 110.63 L396.79 110.45 L397.43 110.31 L398.06 110.22 L398.70 110.17 L399.33 110.17 L399.97 110.21 L400.60 110.30 L401.24 110.43 L401.87 110.61 L402.51 110.83 L403.14 111.10 L403.78 111.41 L404.42 111.76 L405.05 112.15 L405.69 112.59 L406.32 113.07 L406.96 113.59 L407.59 114.15 L408.23 114.75 L408.86 115.39 L409.50 116.06 L410.13 116.77 L410.77 117.51 L411.40 118.29 L412.04 119.11 L412.67 119.95 L413.31 120.82 L413.95 121.72 L414.58 122.65 L415.22 123.61 L415.85 124.59 L416.49 125.59 L417.12 126.61 L417.76 127.65 L418.39 128.72 L419.03 129.79 L419.66 130.89 L420.30 131.99 L420.93 133.11 L421.57 134.24 L422.21 135.38 L422.84 136.52 L423.48 137.66 L424.11 138.81 L424.75 139.96 L425.38 141.11 L426.02 142.26 L426.65 143.40 L427.29 144.54 L427.92 145.67 L428.56 146.79 L429.19 147.89 L429.83 148.99 L430.47 150.07 L431.10 151.13 L431.74 152.18 L432.37 153.20 L433.01 154.21 L433.64 155.19 L434.28 156.15 L434.91 157.08 L435.55 157.99 L436.18 158.86 L436.82 159.71 L437.45 160.52 L438.09 161.31 L438.73 162.06 L439.36 162.77 L440.00 163.45 L440.63 164.09 L441.27 164.69 L441.90 165.26 L442.54 165.78 L443.17 166.27 L443.81 166.71 L444.44 167.11 L445.08 167.47 L445.71 167.78 L446.35 168.05 L446.99 168.28 L447.62 168.46 L448.26 168.60 L448.89 168.69 L449.53 168.74 L450.16 168.75 L450.80 168.70 L451.43 168.62 L452.07 168.48 L452.70 168.31 L453.34 168.08 L453.97 167.82 L454.61 167.51 L455.25 167.16 L455.88 166.76 L456.52 166.32 L457.15 165.84 L457.79 165.32 L458.42 164.76 L459.06 164.17 L459.69 163.53 L460.33 162.85 L460.96 162.14 L461.60 161.40 L462.23 160.62 L462.87 159.81 L463.50 158.97 L464.14 158.09 L464.78 157.19 L465.41 156.26 L466.05 155.31 L466.68 154.33 L467.32 153.33 L467.95 152.30 L468.59 151.26 L469.22 150.20 L469.86 149.12 L470.49 148.03 L471.13 146.92 L471.76 145.80 L472.40 144.67 L473.04 143.54 L473.67 142.40 L474.31 141.25 L474.94 140.10 L475.58 138.95 L476.21 137.80 L476.85 136.65 L477.48 135.51 L478.12 134.38 L478.75 133.25 L479.39 132.13 L480.02 131.02 L480.66 129.93 L481.30 128.85 L481.93 127.78 L482.57 126.74 L483.20 125.71 L483.84 124.70 L484.47 123.72 L485.11 122.76 L485.74 121.83 L486.38 120.93 L487.01 120.05 L487.65 119.20 L488.28 118.39 L488.92 117.61 L489.56 116.86 L490.19 116.14 L490.83 115.46 L491.46 114.82 L492.10 114.22 L492.73 113.66 L493.37 113.13 L494.00 112.65 L494.64 112.20 L495.27 111.80 L495.91 111.45 L496.54 111.13 L497.18 110.86 L497.82 110.63 L498.45 110.45 L499.09 110.31 L499.72 110.22 L500.36 110.17 L500.99 110.17 L501.63 110.21 L502.26 110.30 L502.90 110.43 L503.53 110.61 L504.17 110.83 L504.80 111.10 L505.44 111.41 L506.08 111.76 L506.71 112.15 L507.35 112.59 L507.98 113.07 L508.62 113.59 L509.25 114.15 L509.89 114.75 L510.52 115.39 L511.16 116.06 L511.79 116.77 L512.43 117.51 L513.06 118.29 L513.70 119.11 L514.34 119.95 L514.97 120.82 L515.61 121.72 L516.24 122.65 L516.88 123.61 L517.51 124.59 L518.15 125.59 L518.78 126.61 L519.42 127.65 L520.05 128.72 L520.69 129.79 L521.32 130.89 L521.96 131.99 L522.59 133.11 L523.23 134.24 L523.87 135.38 L524.50 136.52 L525.14 137.66 L525.77 138.81 L526.41 139.96 L527.04 141.11 L527.68 142.26 L528.31 143.40 L528.95 144.54 L529.58 145.67 L530.22 146.79 L530.85 147.89 L531.49 148.99 L532.13 150.07 L532.76 151.13 L533.40 152.18 L534.03 153.20 L534.67 154.21 L535.30 155.19 L535.94 156.15 L536.57 157.08 L537.21 157.99 L537.84 158.86 L538.48 159.71 L539.11 160.52 L539.75 161.31" stroke="#00FF00" stroke-width="1.3"/>
<path d="M31.45 160.35 L32.09 161.19 L32.72 161.99 L33.36 162.77 L33.99 163.50 L34.63 164.20 L35.26 164.86 L35.90 165.49 L36.53 166.07 L37.17 166.61 L37.80 167.11 L38.44 167.57 L39.07 167.98 L39.71 168.35 L40.35 168.67 L40.98 168.95 L41.62 169.19 L42.25 169.37 L42.89 169.52 L43.52 169.61 L44.16 169.66 L44.79 169.66 L45.43 169.62 L46.06 169.53 L46.70 169.39 L47.33 169.21 L47.97 168.98 L48.61 168.71 L49.24 168.39 L49.88 168.03 L50.51 167.62 L51.15 167.17 L51.78 166.67 L52.42 166.14 L53.05 165.56 L53.69 164.94 L54.32 164.28 L54.96 163.59 L55.59 162.86 L56.23 162.09 L56.86 161.28 L57.50 160.45 L58.14 159.58 L58.77 158.68 L59.41 157.75 L60.04 156.79 L60.68 155.81 L61.31 154.80 L61.95 153.76 L62.58 152.71 L63.22 151.63 L63.85 150.53 L64.49 149.42 L65.12 148.30 L65.76 147.15 L66.40 146.00 L67.03 144.84 L67.67 143.67 L68.30 142.49 L68.94 141.31 L69.57 140.12 L70.21 138.94 L70.84 137.75 L71.48 136.57 L72.11 135.39 L72.75 134.22 L73.38 133.05 L74.02 131.90 L74.66 130.76 L75.29 129.63 L75.93 128.51 L76.56 127.41 L77.20 126.34 L77.83 125.28 L78.47 124.24 L79.10 123.23 L79.74 122.24 L80.37 121.28 L81.01 120.35 L81.64 119.44 L82.28 118.57 L82.92 117.73 L83.55 116.92 L84.19 116.15 L84.82 115.41 L85.46 114.71 L86.09 114.05 L86.73 113.43 L87.36 112.85 L88.00 112.30 L88.63 111.81 L89.27 111.35 L89.90 110.94 L90.54 110.57 L91.18 110.24 L91.81 109.96 L92.45 109.73 L93.08 109.54 L93.72 109.40 L94.35 109.30 L94.99 109.25 L95.62 109.25 L96.26 109.29 L96.89 109.38 L97.53 109.52 L98.16 109.70 L98.80 109.93 L99.44 110.21 L100.07 110.53 L100.71 110.89 L101.34 111.30 L101.98 111.75 L102.61 112.24 L103.25 112.78 L103.88 113.36 L104.52 113.97 L105.15 114.63 L105.79 115.33 L106.42 116.06 L107.06 116.83 L107.70 117.63 L108.33 118.47 L108.97 119.34 L109.60 120.24 L110.24 121.17 L110.87 122.12 L111.51 123.11 L112.14 124.12 L112.78 125.15 L113.41 126.21 L114.05 127.28 L114.68 128.38 L115.32 129.49 L115.95 130.62 L116.59 131.76 L117.23 132.91 L117.86 134.08 L118.50 135.25 L119.13 136.43 L119.77 137.61 L120.40 138.79 L121.04 139.98 L121.67 141.16 L122.31 142.35 L122.94 143.53 L123.58 144.70 L124.21 145.86 L124.85 147.02 L125.49 148.16 L126.12 149.29 L126.76 150.40 L127.39 151.50 L128.03 152.58 L128.66 153.64 L129.30 154.67 L129.93 155.69 L130.57 156.67 L131.20 157.64 L131.84 158.57 L132.47 159.47 L133.11 160.35 L133.75 161.19 L134.38 161.99 L135.02 162.77 L135.65 163.50 L136.29 164.20 L136.92 164.86 L137.56 165.49 L138.19 166.07 L138.83 166.61 L139.46 167.11 L140.10 167.57 L140.73 167.98 L141.37 168.35 L142.01 168.67 L142.64 168.95 L143.28 169.19 L143.91 169.37 L144.55 169.52 L145.18 169.61 L145.82 169.66 L146.45 169.66 L147.09 169.62 L147.72 169.53 L148.36 169.39 L148.99 169.21 L149.63 168.98 L150.27 168.71 L150.90 168.39 L151.54 168.03 L152.17 167.62 L152.81 167.17 L153.44 166.67 L154.08 166.14 L154.71 165.56 L155.35 164.94 L155.98 164.28 L156.62 163.59 L157.25 162.86 L157.89 162.09 L158.53 161.28 L159.16 160.45 L159.80 159.58 L160.43 158.68 L161.07 157.75 L161.70 156.79 L162.34 155.81 L162.97 154.80 L163.61 153.76 L164.24 152.71 L164.88 151.63 L165.51 150.53 L166.15 149.42 L166.78 148.30 L167.42 147.15 L168.06 146.00 L168.69 144.84 L169.33 143.67 L169.96 142.49 L170.60 141.31 L171.23 140.12 L171.87 138.94 L172.50 137.75 L173.14 136.57 L173.77 135.39 L174.41 134.22 L175.04 133.05 L175.68 131.90 L176.32 130.76 L176.95 129.63 L177.59 128.51 L178.22 127.41 L178.86 126.34 L179.49 125.28 L180.13 124.24 L180.76 123.23 L181.40 122.24 L182.03 121.28 L182.67 120.35 L182.92 119.98 L182.99 119.89 L183.05 119.80 L183.12 119.71 L183.18 119.62 L183.25 119.52 L183.30 119.44 L183.31 119.43 L183.37 119.34 L183.44 119.25 L183.50 119.17 L183.57 119.08 L183.63 118.99 L183.70 118.90 L183.76 118.81 L183.83 118.72 L183.89 118.64 L183.94 118.57 L183.95 118.55 L184.02 118.46 L184.08 118.38 L184.15 118.29 L184.21 117.68 L184.28 116.20 L184.34 113.99 L184.41 111.23 L184.47 108.19 L184.53 105.14 L184.58 103.32 L184.60 102.36 L184.66 100.11 L184.73 98.59 L184.79 97.94 L184.86 98.07 L184.92 98.78 L184.99 100.01 L185.05 101.71 L185.11 103.80 L185.18 106.19 L185.21 107.45 L185.24 108.75 L185.31 111.38 L185.37 113.94 L185.44 116.33 L185.50 118.42 L185.57 120.12 L185.63 121.35 L185.69 122.05 L185.76 122.19 L185.82 122.05 L185.85 121.98 L185.89 121.82 L185.95 121.50 L186.02 121.09 L186.08 120.61 L186.15 120.06 L186.21 119.46 L186.27 118.81 L186.34 118.13 L186.40 117.45 L186.47 116.76 L186.48 116.61 L186.53 116.09 L186.60 115.44 L186.66 114.85 L186.73 114.31 L186.79 113.84 L186.85 113.44 L186.92 113.14 L186.98 112.92 L187.05 112.80 L187.11 112.74 L187.12 112.73 L187.18 112.67 L187.24 112.61 L187.31 112.54 L187.37 112.48 L187.43 112.42 L187.50 112.36 L187.56 112.31 L187.63 112.25 L187.69 112.19 L187.75 112.14 L187.76 112.14 L187.82 112.09 L187.89 112.04 L187.95 111.98 L188.01 111.94 L188.08 111.89 L188.14 111.84 L188.21 111.80 L188.27 111.75 L188.34 111.71 L188.39 111.67 L188.40 111.67 L188.47 111.62 L188.53 111.58 L188.59 111.55 L188.66 111.51 L188.72 111.47 L188.79 111.43 L188.85 111.40 L188.92 111.37 L188.98 111.33 L189.02 111.31 L189.05 111.30 L189.11 111.27 L189.17 111.24 L189.24 111.21 L189.30 111.18 L189.37 111.15 L189.43 111.13 L189.50 111.10 L189.56 111.07 L189.62 111.05 L189.66 111.04 L189.69 111.02 L189.75 111.00 L189.82 110.98 L189.88 110.95 L189.95 110.93 L190.01 110.91 L190.08 110.89 L190.14 110.87 L190.20 110.85 L190.27 110.83 L190.29 110.82 L190.33 110.81 L190.40 110.79 L190.46 110.77 L190.53 110.75 L190.59 110.73 L190.66 110.72 L190.72 110.70 L190.78 110.68 L190.85 110.66 L190.91 110.65 L190.93 110.64 L190.98 110.63 L191.04 110.61 L191.11 110.59 L191.17 110.58 L191.24 110.56 L191.30 110.54 L191.36 110.52 L191.43 110.51 L191.49 110.49 L191.56 110.47 L191.56 110.47 L191.62 110.45 L191.69 110.44 L191.75 110.42 L191.82 110.40 L191.88 110.38 L191.94 110.36 L192.01 110.34 L192.07 110.32 L192.14 110.30 L192.20 110.29 L192.20 110.28 L192.27 110.26 L192.33 110.24 L192.40 110.22 L192.46 110.20 L192.52 110.18 L192.59 110.16 L192.65 110.13 L192.72 110.11 L192.78 110.09 L192.84 110.07 L192.85 110.06 L192.91 110.04 L192.98 110.02 L193.04 109.99 L193.10 109.97 L193.17 109.94 L193.23 109.92 L193.30 109.89 L193.36 109.87 L193.43 109.84 L193.47 109.83 L193.49 109.82 L193.56 109.79 L193.62 109.77 L193.68 109.75 L193.75 109.73 L193.81 109.71 L193.88 109.69 L193.94 109.67 L194.01 109.65 L194.07 109.63 L194.11 109.62 L194.14 109.61 L194.20 109.59 L194.26 109.57 L194.33 109.55 L194.39 109.54 L194.46 109.52 L194.52 109.51 L194.59 109.49 L194.65 109.47 L194.72 109.46 L194.74 109.45 L194.78 109.45 L194.84 109.43 L194.91 109.42 L194.97 109.41 L195.04 109.39 L195.10 109.38 L195.17 109.37 L195.23 109.36 L195.30 109.35 L195.36 109.34 L195.38 109.34 L195.42 109.33 L195.49 109.32 L195.55 109.31 L195.62 109.31 L195.68 109.30 L195.75 109.29 L195.81 109.29 L195.88 109.28 L195.94 109.27 L196.00 109.27 L196.01 109.27 L196.07 109.26 L196.13 109.26 L196.20 109.26 L196.26 109.25 L196.33 109.25 L196.39 109.25 L196.46 109.25 L196.52 109.25 L196.58 109.25 L196.65 109.25 L196.65 109.25 L196.71 109.25 L196.78 109.25 L196.84 109.25 L196.91 109.25 L196.97 109.25 L197.04 109.25 L197.10 109.26 L197.16 109.26 L197.23 109.26 L197.28 109.27 L197.29 109.27 L197.36 109.27 L197.42 109.28 L197.49 109.29 L197.55 109.29 L197.62 109.30 L197.68 109.31 L197.74 109.31 L197.81 109.32 L197.87 109.33 L197.92 109.34 L197.94 109.34 L198.00 109.35 L198.07 109.36 L198.13 109.37 L198.20 109.38 L198.26 109.39 L198.32 109.41 L198.39 109.42 L198.45 109.43 L198.52 109.45 L198.55 109.45 L198.58 109.46 L198.65 109.48 L198.71 109.49 L198.78 109.51 L198.84 109.52 L198.90 109.54 L198.97 109.56 L199.03 109.57 L199.10 109.59 L199.16 109.61 L199.19 109.62 L199.23 109.63 L199.29 109.65 L199.36 109.67 L199.42 109.69 L199.48 109.71 L199.55 109.73 L199.61 109.75 L199.68 109.77 L199.74 109.80 L199.81 109.82 L199.82 109.83 L199.87 109.84 L199.94 109.87 L200.00 109.89 L200.06 109.92 L200.13 109.94 L200.19 109.97 L200.26 109.99 L200.32 110.02 L200.39 110.05 L200.45 110.08 L200.46 110.08 L200.52 110.10 L200.58 110.13 L200.64 110.16 L200.71 110.19 L200.77 110.22 L200.84 110.25 L200.90 110.28 L200.97 110.31 L201.03 110.35 L201.10 110.38 L201.10 110.38 L201.16 110.41 L201.22 110.45 L201.29 110.48 L201.35 110.51 L201.42 110.55 L201.48 110.58 L201.55 110.62 L201.61 110.66 L201.67 110.69 L201.73 110.72 L201.74 110.73 L201.80 110.77 L201.87 110.80 L201.93 110.84 L202.00 110.88 L202.06 110.92 L202.13 110.96 L202.19 111.00 L202.25 111.04 L202.32 111.08 L202.37 111.11 L202.38 111.12 L202.45 111.17 L202.51 111.21 L202.58 111.25 L202.64 111.29 L202.71 111.34 L202.77 111.38 L202.83 111.43 L202.90 111.47 L202.96 111.52 L203.00 111.54 L203.03 111.56 L203.09 111.61 L203.16 111.66 L203.22 111.70 L203.29 111.75 L203.35 111.80 L203.41 111.85 L203.48 111.90 L203.54 111.95 L203.61 112.00 L203.64 112.02 L203.67 112.05 L203.74 112.10 L203.80 112.15 L203.87 112.20 L203.93 112.25 L203.99 112.31 L204.06 112.36 L204.12 112.41 L204.19 112.47 L204.25 112.52 L204.27 112.54 L204.32 112.58 L204.38 112.63 L204.45 112.69 L204.51 112.74 L204.57 112.80 L204.64 112.86 L204.70 112.91 L204.77 112.97 L204.83 113.03 L204.90 113.09 L204.91 113.10 L204.96 113.15 L205.03 113.21 L205.09 113.27 L205.15 113.33 L205.22 113.39 L205.28 113.45 L205.35 113.51 L205.41 113.57 L205.48 113.63 L205.54 113.70 L205.54 113.70 L205.61 113.76 L205.67 113.82 L205.73 113.89 L205.80 113.95 L205.86 114.01 L205.93 114.08 L205.99 114.15 L206.06 114.21 L206.12 114.28 L206.18 114.34 L206.19 114.34 L206.25 114.41 L206.31 114.48 L206.38 114.55 L206.44 114.62 L206.51 114.68 L206.57 114.75 L206.64 114.82 L206.70 114.89 L206.77 114.96 L206.81 115.02 L206.83 115.03 L206.89 115.10 L206.96 115.18 L207.02 115.25 L207.09 115.32 L207.15 115.39 L207.22 115.47 L207.28 115.54 L207.35 115.61 L207.41 115.69 L207.45 115.73 L207.47 115.76 L207.54 115.84 L207.60 115.91 L207.67 115.99 L207.73 116.06 L207.80 116.14 L207.86 116.22 L207.93 116.29 L207.99 116.37 L208.05 116.45 L208.08 116.48 L208.12 116.53 L208.18 116.60 L208.25 116.68 L208.31 116.76 L208.38 116.84 L208.44 116.92 L208.51 117.00 L208.57 117.08 L208.63 117.16 L208.70 117.25 L208.72 117.27 L208.76 117.33 L208.83 117.41 L208.89 117.49 L208.96 117.57 L209.02 117.66 L209.09 117.74 L209.15 117.82 L209.21 117.91 L209.28 117.99 L209.34 118.08 L209.36 118.09 L209.41 118.16 L209.47 118.25 L209.54 118.33 L209.60 118.42 L209.67 118.51 L209.73 118.59 L209.79 118.68 L209.86 118.77 L209.92 118.86 L209.99 118.95 L209.99 118.95 L210.05 119.03 L210.12 119.12 L210.18 119.21 L210.25 119.30 L210.31 119.39 L210.37 119.48 L210.44 119.57 L210.50 119.66 L210.57 119.75 L210.63 119.84 L210.63 119.84 L210.70 119.94 L210.76 120.03 L210.83 120.12 L210.89 120.21 L210.95 120.31 L211.02 120.40 L211.08 120.49 L211.15 120.59 L211.21 120.68 L211.26 120.75 L211.28 120.78 L211.34 120.87 L211.41 120.96 L211.47 121.06 L211.53 121.16 L211.60 121.25 L211.66 121.35 L211.73 121.44 L211.79 121.54 L211.86 121.64 L211.90 121.70 L211.92 121.74 L211.99 121.83 L212.05 121.93 L212.11 122.03 L212.18 122.13 L212.24 122.23 L212.31 122.33 L212.37 122.42 L212.44 122.52 L212.50 122.62 L212.53 122.67 L212.57 122.72 L212.63 122.82 L212.69 122.92 L212.76 123.03 L212.82 123.13 L212.89 123.23 L212.95 123.33 L213.02 123.43 L213.08 123.53 L213.14 123.64 L213.17 123.67 L213.21 123.74 L213.27 123.84 L213.34 123.94 L213.40 124.05 L213.47 124.15 L213.53 124.26 L213.60 124.36 L213.66 124.46 L213.72 124.57 L213.79 124.67 L213.80 124.69 L213.85 124.78 L213.92 124.88 L213.98 124.99 L214.05 125.09 L214.11 125.20 L214.18 125.31 L214.24 125.41 L214.30 125.52 L214.37 125.63 L214.43 125.73 L214.44 125.74 L214.50 125.84 L214.56 125.95 L214.63 126.06 L214.69 126.16 L214.76 126.27 L214.82 126.38 L214.88 126.49 L214.95 126.60 L215.01 126.71 L215.07 126.81 L215.08 126.82 L215.14 126.93 L215.21 127.04 L215.27 127.15 L215.34 127.26 L215.40 127.37 L215.46 127.48 L215.53 127.59 L215.59 127.70 L215.66 127.81 L215.71 127.90 L215.72 127.92 L215.79 128.03 L215.85 128.14 L215.92 128.25 L215.98 128.37 L216.04 128.48 L216.11 128.59 L216.17 128.70 L216.24 128.81 L216.30 128.93 L216.34 129.00 L216.37 129.04 L216.43 129.15 L216.50 129.27 L216.56 129.38 L216.62 129.49 L216.69 129.61 L216.75 129.72 L216.82 129.83 L216.88 129.95 L216.95 130.06 L216.98 130.12 L217.01 130.18 L217.08 130.29 L217.14 130.41 L217.20 130.52 L217.27 130.64 L217.33 130.75 L217.40 130.87 L217.46 130.98 L217.53 131.10 L217.59 131.21 L217.61 131.26 L217.66 131.33 L217.72 131.45 L217.78 131.56 L217.85 131.68 L217.91 131.79 L217.98 131.91 L218.04 132.03 L218.11 132.14 L218.17 132.26 L218.24 132.38 L218.25 132.40 L218.30 132.49 L218.36 132.61 L218.43 132.73 L218.49 132.85 L218.56 132.96 L218.62 133.08 L218.69 133.20 L218.75 133.32 L218.82 133.43 L218.88 133.55 L218.89 133.56 L218.94 133.67 L219.01 133.79 L219.07 133.91 L219.14 134.03 L219.20 134.14 L219.27 134.26 L219.33 134.38 L219.40 134.50 L219.46 134.62 L219.52 134.73 L219.52 134.74 L219.59 134.86 L219.65 134.98 L219.72 135.09 L219.78 135.21 L219.85 135.33 L219.91 135.45 L219.98 135.57 L220.04 135.69 L220.10 135.81 L220.16 135.91 L220.17 135.93 L220.23 136.05 L220.30 136.17 L220.36 136.29 L220.43 136.41 L220.49 136.53 L220.56 136.65 L220.62 136.77 L220.68 136.89 L220.75 137.01 L220.79 137.09 L220.81 137.13 L220.88 137.25 L220.94 137.37 L221.01 137.49 L221.07 137.61 L221.14 137.73 L221.20 137.85 L221.26 137.97 L221.33 138.09 L221.39 138.21 L221.43 138.27 L221.46 138.33 L221.52 138.45 L221.59 138.57 L221.65 138.69 L221.72 138.81 L221.78 138.93 L221.84 139.05 L221.91 139.17 L221.97 139.29 L222.04 139.41 L222.06 139.46 L222.10 139.53 L222.17 139.65 L222.23 139.77 L222.30 139.89 L222.36 140.01 L222.42 140.13 L222.49 140.25 L222.55 140.37 L222.62 140.49 L222.68 140.61 L222.70 140.64 L222.75 140.73 L222.81 140.85 L222.88 140.97 L222.94 141.09 L223.00 141.21 L223.07 141.33 L223.13 141.45 L223.20 141.57 L223.26 141.69 L223.33 141.81 L223.33 141.83 L223.39 141.93 L223.46 142.05 L223.52 142.17 L223.58 142.29 L223.65 142.41 L223.71 142.53 L223.78 142.65 L223.84 142.77 L223.91 142.89 L223.97 143.01 L223.97 143.01 L224.04 143.13 L224.10 143.25 L224.16 143.37 L224.23 143.49 L224.29 143.61 L224.36 143.73 L224.42 143.85 L224.49 143.97 L224.55 144.08 L224.60 144.18 L224.62 144.20 L224.68 144.32 L224.74 144.44 L224.81 144.56 L224.87 144.68 L224.94 144.80 L225.00 144.92 L225.07 145.03 L225.13 145.15 L225.19 145.27 L225.24 145.35 L225.26 145.39 L225.32 145.51 L225.39 145.62 L225.45 145.74 L225.52 145.86 L225.58 145.98 L225.65 146.09 L225.71 146.21 L225.77 146.33 L225.84 146.45 L225.87 146.51 L225.90 146.56 L225.97 146.68 L226.03 146.80 L226.10 146.91 L226.16 147.03 L226.23 147.15 L226.29 147.26 L226.35 147.38 L226.42 147.49 L226.48 147.61 L226.51 147.66 L226.55 147.73 L226.61 147.84 L226.68 147.96 L226.74 148.07 L226.81 148.19 L226.87 148.30 L226.93 148.42 L227.00 148.53 L227.06 148.65 L227.13 148.76 L227.15 148.79 L227.19 148.88 L227.26 148.99 L227.32 149.11 L227.39 149.22 L227.45 149.33 L227.51 149.45 L227.58 149.56 L227.64 149.67 L227.71 149.79 L227.77 149.90 L227.78 149.91 L227.84 150.01 L227.90 150.12 L227.97 150.24 L228.03 150.35 L228.09 150.46 L228.16 150.57 L228.22 150.69 L228.29 150.80 L228.35 150.91 L228.42 151.02 L228.42 151.02 L228.48 151.13 L228.55 151.24 L228.61 151.35 L228.67 151.46 L228.74 151.57 L228.80 151.68 L228.87 151.79 L228.93 151.90 L229.00 152.01 L229.05 152.11 L229.06 152.12 L229.13 152.23 L229.19 152.34 L229.25 152.45 L229.32 152.56 L229.38 152.67 L229.45 152.77 L229.51 152.88 L229.58 152.99 L229.64 153.10 L229.69 153.17 L229.71 153.20 L229.77 153.31 L229.83 153.42 L229.90 153.52 L229.96 153.63 L230.03 153.74 L230.09 153.84 L230.16 153.95 L230.22 154.05 L230.29 154.16 L230.32 154.22 L230.35 154.26 L230.41 154.37 L230.48 154.47 L230.54 154.58 L230.61 154.68 L230.67 154.79 L230.74 154.89 L230.80 154.99 L230.87 155.10 L230.93 155.20 L230.96 155.24 L230.99 155.30 L231.06 155.40 L231.12 155.51 L231.19 155.61 L231.25 155.71 L231.32 155.81 L231.38 155.91 L231.45 156.01 L231.51 156.11 L231.57 156.21 L231.59 156.24 L231.64 156.31 L231.70 156.41 L231.77 156.51 L231.83 156.61 L231.90 156.71 L231.96 156.81 L232.03 156.91 L232.09 157.01 L232.15 157.10 L232.22 157.20 L232.23 157.22 L232.28 157.30 L232.35 157.39 L232.41 157.49 L232.48 157.59 L232.54 157.68 L232.61 157.78 L232.67 157.88 L232.73 157.97 L232.80 158.07 L232.86 158.16 L232.86 158.16 L232.93 158.25 L232.99 158.35 L233.06 158.44 L233.12 158.54 L233.19 158.63 L233.25 158.72 L233.31 158.81 L233.38 158.91 L233.44 159.00 L233.50 159.08 L233.51 159.09 L233.57 159.18 L233.64 159.27 L233.70 159.36 L233.77 159.45 L233.83 159.54 L233.89 159.63 L233.96 159.72 L234.02 159.81 L234.09 159.90 L234.13 159.97 L234.15 159.99 L234.22 160.08 L234.28 160.16 L234.35 160.25 L234.41 160.34 L234.47 160.43 L234.54 160.51 L234.60 160.60 L234.67 160.68 L234.73 160.77 L234.77 160.82 L234.80 160.86 L234.86 160.94 L234.93 161.02 L234.99 161.11 L235.05 161.19 L235.12 161.28 L235.18 161.36 L235.25 161.44 L235.31 161.52 L235.38 161.61 L235.41 161.64 L235.44 161.69 L235.51 161.77 L235.57 161.85 L235.63 161.93 L235.70 162.01 L235.76 162.09 L235.83 162.17 L235.89 162.25 L235.96 162.33 L236.02 162.41 L236.04 162.43 L236.09 162.48 L236.15 162.56 L236.21 162.64 L236.28 162.72 L236.34 162.79 L236.41 162.87 L236.47 162.95 L236.54 163.02 L236.60 163.10 L236.66 163.17 L236.68 163.18 L236.73 163.24 L236.79 163.32 L236.86 163.39 L236.92 163.47 L236.99 163.54 L237.05 163.61 L237.12 163.68 L237.18 163.75 L237.24 163.83 L237.31 163.90 L237.31 163.90 L237.37 163.97 L237.44 164.04 L237.50 164.11 L237.57 164.18 L237.63 164.25 L237.70 164.31 L237.76 164.38 L237.82 164.45 L237.89 164.52 L237.95 164.58 L237.95 164.58 L238.02 164.65 L238.08 164.72 L238.15 164.78 L238.21 164.85 L238.28 164.91 L238.34 164.98 L238.40 165.04 L238.47 165.11 L238.53 165.17 L238.58 165.22 L238.60 165.23 L238.66 165.30 L238.73 165.36 L238.79 165.42 L238.86 165.48 L238.92 165.54 L238.98 165.60 L239.05 165.66 L239.11 165.72 L239.18 165.78 L239.22 165.82 L239.24 165.84 L239.31 165.90 L239.37 165.96 L239.44 166.01 L239.50 166.07 L239.56 166.13 L239.63 166.18 L239.69 166.24 L239.76 166.30 L239.82 166.35 L239.85 166.38 L239.89 166.41 L239.95 166.46 L240.02 166.51 L240.08 166.57 L240.14 166.62 L240.21 166.67 L240.27 166.72 L240.34 166.78 L240.40 166.83 L240.47 166.88 L240.49 166.89 L240.53 166.93 L240.60 166.98 L240.66 167.03 L240.72 167.08 L240.79 167.12 L240.85 167.17 L240.92 167.22 L240.98 167.27 L241.05 167.31 L241.11 167.36 L241.12 167.37 L241.18 167.41 L241.24 167.45 L241.30 167.50 L241.37 167.54 L241.43 167.59 L241.50 167.63 L241.56 167.67 L241.63 167.72 L241.69 167.76 L241.76 167.80 L241.76 167.80 L241.82 167.84 L241.88 167.88 L241.95 167.92 L242.01 167.96 L242.08 168.00 L242.14 168.04 L242.21 168.08 L242.27 168.12 L242.34 168.16 L242.39 168.19 L242.40 168.19 L242.46 168.23 L242.53 168.27 L242.59 168.30 L242.66 168.34 L242.72 168.37 L242.79 168.41 L242.85 168.44 L242.92 168.48 L242.98 168.51 L243.03 168.53 L243.04 168.54 L243.11 168.57 L243.17 168.61 L243.24 168.64 L243.30 168.67 L243.37 168.70 L243.43 168.73 L243.50 168.76 L243.56 168.79 L243.62 168.82 L243.67 168.83 L243.69 168.84 L243.75 168.87 L243.82 168.90 L243.88 168.93 L243.95 168.95 L244.01 168.98 L244.08 169.00 L244.14 169.03 L244.20 169.05 L244.27 169.08 L244.30 169.09 L244.33 169.10 L244.40 169.12 L244.46 169.15 L244.53 169.17 L244.59 169.19 L244.66 169.21 L244.72 169.23 L244.78 169.25 L244.85 169.27 L244.91 169.29 L244.94 169.30 L244.98 169.31 L245.04 169.33 L245.11 169.35 L245.17 169.36 L245.24 169.38 L245.30 169.40 L245.36 169.41 L245.43 169.43 L245.49 169.44 L245.56 169.46 L245.57 169.46 L245.62 169.47 L245.69 169.48 L245.75 169.50 L245.82 169.51 L245.88 169.52 L245.94 169.53 L246.01 169.54 L246.07 169.56 L246.14 169.57 L246.20 169.58 L246.21 169.58 L246.27 169.58 L246.33 169.59 L246.40 169.60 L246.46 169.61 L246.52 169.62 L246.59 169.62 L246.65 169.63 L246.72 169.64 L246.78 169.64 L246.84 169.65 L246.85 169.65 L246.91 169.65 L246.98 169.65 L247.04 169.66 L247.10 169.66 L247.17 169.66 L247.23 169.67 L247.30 169.67 L247.36 169.67 L247.43 169.67 L247.48 169.67 L247.49 169.67 L247.56 169.67 L247.62 169.67 L247.68 169.67 L247.75 169.67 L247.81 169.66 L247.88 169.66 L247.94 169.66 L248.01 169.65 L248.07 169.65 L248.11 169.65 L248.14 169.64 L248.20 169.64 L248.26 169.63 L248.33 169.63 L248.39 169.62 L248.46 169.61 L248.52 169.61 L248.59 169.60 L248.65 169.59 L248.71 169.58 L248.75 169.58 L248.78 169.57 L248.84 169.56 L248.91 169.55 L248.97 169.54 L249.04 169.53 L249.10 169.52 L249.17 169.50 L249.23 169.49 L249.29 169.48 L249.36 169.47 L249.38 169.46 L249.42 169.45 L249.49 169.44 L249.55 169.42 L249.62 169.41 L249.68 169.39 L249.75 169.37 L249.81 169.36 L249.87 169.34 L249.94 169.32 L250.00 169.30 L250.02 169.30 L250.07 169.28 L250.13 169.26 L250.20 169.24 L250.26 169.22 L250.33 169.20 L250.39 169.18 L250.45 169.16 L250.52 169.14 L250.58 169.11 L250.65 169.09 L250.65 169.09 L250.71 169.07 L250.78 169.04 L250.84 169.02 L250.91 168.99 L250.97 168.97 L251.03 168.94 L251.10 168.92 L251.16 168.89 L251.23 168.86 L251.29 168.83 L251.29 168.83 L251.36 168.80 L251.42 168.78 L251.49 168.75 L251.55 168.72 L251.61 168.69 L251.68 168.66 L251.74 168.63 L251.81 168.59 L251.87 168.56 L251.93 168.53 L251.94 168.53 L252.00 168.50 L252.07 168.46 L252.13 168.43 L252.19 168.39 L252.26 168.36 L252.32 168.32 L252.39 168.29 L252.45 168.25 L252.52 168.22 L252.56 168.19 L252.58 168.18 L252.65 168.14 L252.71 168.10 L252.77 168.06 L252.84 168.03 L252.90 167.99 L252.97 167.95 L253.03 167.91 L253.10 167.87 L253.16 167.82 L253.20 167.80 L253.23 167.78 L253.29 167.74 L253.35 167.70 L253.42 167.66 L253.48 167.61 L253.55 167.57 L253.61 167.52 L253.68 167.48 L253.74 167.43 L253.81 167.39 L253.83 167.37 L253.87 167.34 L253.93 167.30 L254.00 167.25 L254.06 167.20 L254.13 167.15 L254.19 167.10 L254.26 167.06 L254.32 167.01 L254.39 166.96 L254.45 166.91 L254.47 166.89 L254.51 166.86 L254.58 166.81 L254.64 166.75 L254.71 166.70 L254.77 166.65 L254.84 166.60 L254.90 166.54 L254.97 166.49 L255.03 166.44 L255.09 166.38 L255.10 166.38 L255.16 166.33 L255.22 166.27 L255.29 166.22 L255.35 166.16 L255.42 166.10 L255.48 166.05 L255.55 165.99 L255.61 165.93 L255.67 165.87 L255.74 165.82 L255.74 165.82 L255.80 165.76 L255.87 165.70 L255.93 165.64 L256.00 165.58 L256.06 165.52 L256.13 165.46 L256.19 165.39 L256.25 165.33 L256.32 165.27 L256.37 165.22 L256.38 165.21 L256.45 165.14 L256.51 165.08 L256.58 165.02 L256.64 164.95 L256.71 164.89 L256.77 164.82 L256.83 164.76 L256.90 164.69 L256.96 164.62 L257.01 164.58 L257.03 164.56 L257.09 164.49 L257.16 164.42 L257.22 164.35 L257.29 164.29 L257.35 164.22 L257.41 164.15 L257.48 164.08 L257.54 164.01 L257.61 163.94 L257.64 163.90 L257.67 163.87 L257.74 163.80 L257.80 163.73 L257.87 163.65 L257.93 163.58 L257.99 163.51 L258.06 163.44 L258.12 163.36 L258.19 163.29 L258.25 163.21 L258.28 163.18 L258.32 163.14 L258.38 163.07 L258.45 162.99 L258.51 162.91 L258.57 162.84 L258.64 162.76 L258.70 162.68 L258.77 162.61 L258.83 162.53 L258.90 162.45 L258.91 162.43 L258.96 162.37 L259.03 162.30 L259.09 162.22 L259.15 162.14 L259.22 162.06 L259.28 161.98 L259.35 161.90 L259.41 161.82 L259.48 161.74 L259.54 161.65 L259.55 161.64 L259.61 161.57 L259.67 161.49 L259.73 161.41 L259.80 161.32 L259.86 161.24 L259.93 161.16 L259.99 161.07 L260.06 160.99 L260.12 160.91 L260.19 160.82 L260.82 159.97 L261.46 159.08 L262.09 158.16 L262.73 157.22 L263.36 156.24 L264.00 155.24 L264.63 154.22 L265.27 153.17 L265.90 152.11 L266.54 151.02 L267.17 149.91 L267.81 148.79 L268.44 147.66 L269.08 146.51 L269.72 145.35 L270.35 144.18 L270.99 143.01 L271.62 141.83 L272.26 140.64 L272.89 139.46 L273.53 138.27 L274.16 137.09 L274.80 135.91 L275.43 134.73 L276.07 133.56 L276.70 132.40 L277.34 131.26 L277.98 130.12 L278.61 129.00 L279.25 127.90 L279.88 126.81 L280.52 125.74 L281.15 124.69 L281.79 123.67 L282.42 122.67 L283.06 121.70 L283.69 120.75 L284.33 119.84 L284.96 118.95 L285.60 118.09 L286.24 117.27 L286.87 116.48 L287.51 115.73 L288.14 115.02 L288.78 114.34 L289.41 113.70 L290.05 113.10 L290.68 112.54 L291.32 112.02 L291.95 111.54 L292.59 111.11 L293.22 110.72 L293.86 110.38 L294.50 110.08 L295.13 109.83 L295.77 109.62 L296.40 109.45 L297.04 109.34 L297.67 109.27 L298.31 109.25 L298.94 109.27 L299.58 109.34 L300.21 109.45 L300.85 109.62 L301.48 109.83 L302.12 110.08 L302.76 110.38 L303.39 110.72 L304.03 111.11 L304.66 111.54 L305.30 112.02 L305.93 112.54 L306.57 113.10 L307.20 113.70 L307.84 114.34 L308.47 115.02 L309.11 115.73 L309.74 116.48 L310.38 117.27 L311.01 118.09 L311.65 118.95 L312.29 119.84 L312.92 120.75 L313.56 121.70 L314.19 122.67 L314.83 123.67 L315.46 124.69 L316.10 125.74 L316.73 126.81 L317.37 127.90 L318.00 129.00 L318.64 130.12 L319.27 131.26 L319.91 132.40 L320.55 133.56 L321.18 134.73 L321.82 135.91 L322.45 137.09 L323.09 138.27 L323.72 139.46 L324.36 140.64 L324.99 141.83 L325.63 143.01 L326.26 144.18 L326.90 145.35 L327.53 146.51 L328.17 147.66 L328.81 148.79 L329.44 149.91 L330.08 151.02 L330.71 152.11 L331.35 153.17 L331.98 154.22 L332.62 155.24 L333.25 156.24 L333.89 157.22 L334.52 158.16 L335.16 159.08 L335.79 159.97 L336.43 160.82 L337.07 161.64 L337.70 162.43 L338.34 163.18 L338.97 163.90 L339.61 164.58 L340.24 165.22 L340.88 165.82 L341.51 166.38 L342.15 166.89 L342.78 167.37 L343.42 167.80 L344.05 168.19 L344.69 168.53 L345.33 168.83 L345.96 169.09 L346.60 169.30 L347.23 169.46 L347.87 169.58 L348.50 169.65 L349.14 169.67 L349.77 169.65 L350.41 169.58 L351.04 169.46 L351.68 169.30 L352.31 169.09 L352.95 168.83 L353.59 168.53 L354.22 168.19 L354.86 167.80 L355.49 167.37 L356.13 166.89 L356.76 166.38 L357.40 165.82 L358.03 165.22 L358.67 164.58 L359.30 163.90 L359.94 163.18 L360.57 162.43 L361.21 161.64 L361.85 160.82 L362.48 159.97 L363.12 159.08 L363.75 158.16 L364.39 157.22 L365.02 156.24 L365.66 155.24 L366.29 154.22 L366.93 153.17 L367.56 152.11 L368.20 151.02 L368.83 149.91 L369.47 148.79 L370.10 147.66 L370.74 146.51 L371.38 145.35 L372.01 144.18 L372.65 143.01 L373.28 141.83 L373.92 140.64 L374.55 139.46 L375.19 138.27 L375.82 137.09 L376.46 135.91 L377.09 134.73 L377.73 133.56 L378.36 132.40 L379.00 131.26 L379.64 130.12 L380.27 129.00 L380.91 127.90 L381.54 126.81 L382.18 125.74 L382.81 124.69 L383.45 123.67 L384.08 122.67 L384.72 121.70 L385.35 120.75 L385.99 119.84 L386.62 118.95 L387.26 118.09 L387.90 117.27 L388.53 116.48 L389.17 115.73 L389.80 115.02 L390.44 114.34 L391.07 113.70 L391.71 113.10 L392.34 112.54 L392.98 112.02 L393.61 111.54 L394.25 111.11 L394.88 110.72 L395.52 110.38 L396.16 110.08 L396.79 109.83 L397.43 109.62 L398.06 109.45 L398.70 109.34 L399.33 109.27 L399.97 109.25 L400.60 109.27 L401.24 109.34 L401.87 109.45 L402.51 109.62 L403.14 109.83 L403.78 110.08 L404.42 110.38 L405.05 110.72 L405.69 111.11 L406.32 111.54 L406.96 112.02 L407.59 112.54 L408.23 113.10 L408.86 113.70 L409.50 114.34 L410.13 115.02 L410.77 115.73 L411.40 116.48 L412.04 117.27 L412.67 118.09 L413.31 118.95 L413.95 119.84 L414.58 120.75 L415.22 121.70 L415.85 122.67 L416.49 123.67 L417.12 124.69 L417.76 125.74 L418.39 126.81 L419.03 127.90 L419.66 129.00 L420.30 130.12 L420.93 131.26 L421.57 132.40 L422.21 133.56 L422.84 134.73 L423.48 135.91 L424.11 137.09 L424.75 138.27 L425.38 139.46 L426.02 140.64 L426.65 141.83 L427.29 143.01 L427.92 144.18 L428.56 145.35 L429.19 146.51 L429.83 147.66 L430.47 148.79 L431.10 149.91 L431.74 151.02 L432.37 152.11 L433.01 153.17 L433.64 154.22 L434.28 155.24 L434.91 156.24 L435.55 157.22 L436.18 158.16 L436.82 159.08 L437.45 159.97 L438.09 160.82 L438.73 161.64 L439.36 162.43 L440.00 163.18 L440.63 163.90 L441.27 164.58 L441.90 165.22 L442.54 165.82 L443.17 166.38 L443.81 166.89 L444.44 167.37 L445.08 167.80 L445.71 168.19 L446.35 168.53 L446.99 168.83 L447.62 169.09 L448.26 169.30 L448.89 169.46 L449.53 169.58 L450.16 169.65 L450.80 169.67 L451.43 169.65 L452.07 169.58 L452.70 169.46 L453.34 169.30 L453.97 169.09 L454.61 168.83 L455.25 168.53 L455.88 168.19 L456.52 167.80 L457.15 167.37 L457.79 166.89 L458.42 166.38 L459.06 165.82 L459.69 165.22 L460.33 164.58 L460.96 163.90 L461.60 163.18 L462.23 162.43 L462.87 161.64 L463.50 160.82 L464.14 159.97 L464.78 159.08 L465.41 158.16 L466.05 157.22 L466.68 156.24 L467.32 155.24 L467.95 154.22 L468.59 153.17 L469.22 152.11 L469.86 151.02 L470.49 149.91 L471.13 148.79 L471.76 147.66 L472.40 146.51 L473.04 145.35 L473.67 144.18 L474.31 143.01 L474.94 141.83 L475.58 140.64 L476.21 139.46 L476.85 138.27 L477.48 137.09 L478.12 135.91 L478.75 134.73 L479.39 133.56 L480.02 132.40 L480.66 131.26 L481.30 130.12 L481.93 129.00 L482.57 127.90 L483.20 126.81 L483.84 125.74 L484.47 124.69 L485.11 123.67 L485.74 122.67 L486.38 121.70 L487.01 120.75 L487.65 119.84 L488.28 118.95 L488.92 118.09 L489.56 117.27 L490.19 116.48 L490.83 115.73 L491.46 115.02 L492.10 114.34 L492.73 113.70 L493.37 113.10 L494.00 112.54 L494.64 112.02 L495.27 111.54 L495.91 111.11 L496.54 110.72 L497.18 110.38 L497.82 110.08 L498.45 109.83 L499.09 109.62 L499.72 109.45 L500.36 109.34 L500.99 109.27 L501.63 109.25 L502.26 109.27 L502.90 109.34 L503.53 109.45 L504.17 109.62 L504.80 109.83 L505.44 110.08 L506.08 110.38 L506.71 110.72 L507.35 111.11 L507.98 111.54 L508.62 112.02 L509.25 112.54 L509.89 113.10 L510.52 113.70 L511.16 114.34 L511.79 115.02 L512.43 115.73 L513.06 116.48 L513.70 117.27 L514.34 118.09 L514.97 118.95 L515.61 119.84 L516.24 120.75 L516.88 121.70 L517.51 122.67 L518.15 123.67 L518.78 124.69 L519.42 125.74 L520.05 126.81 L520.69 127.90 L521.32 129.00 L521.96 130.12 L522.59 131.26 L523.23 132.40 L523.87 133.56 L524.50 134.73 L525.14 135.91 L525.77 137.09 L526.41 138.27 L527.04 139.46 L527.68 140.64 L528.31 141.83 L528.95 143.01 L529.58 144.18 L530.22 145.35 L530.85 146.51 L531.49 147.66 L532.13 148.79 L532.76 149.91 L533.40 151.02 L534.03 152.11 L534.67 153.17 L535.30 154.22 L535.94 155.24 L536.57 156.24 L537.21 157.22 L537.84 158.16 L538.48 159.08 L539.11 159.97 L539.75 160.82" stroke="#FF0000" stroke-width="1.3"/>
</g>
<rect x="31.7" y="8.1" width="508.3" height="183.9" fill="none" stroke="#9e9e9e" stroke-width="1"/>
<path d="M31.70 192.0 v-5 M31.70 8.1 v5 M82.53 192.0 v-5 M82.53 8.1 v5 M133.36 192.0 v-5 M133.36 8.1 v5 M184.19 192.0 v-5 M184.19 8.1 v5 M235.02 192.0 v-5 M235.02 8.1 v5 M285.85 192.0 v-5 M285.85 8.1 v5 M336.68 192.0 v-5 M336.68 8.1 v5 M387.51 192.0 v-5 M387.51 8.1 v5 M438.34 192.0 v-5 M438.34 8.1 v5 M489.17 192.0 v-5 M489.17 8.1 v5 M540.00 192.0 v-5 M540.00 8.1 v5 M31.7 192.00 h5 M540.0 192.00 h-5 M31.7 165.73 h5 M540.0 165.73 h-5 M31.7 139.46 h5 M540.0 139.46 h-5 M31.7 113.19 h5 M540.0 113.19 h-5 M31.7 86.91 h5 M540.0 86.91 h-5 M31.7 60.64 h5 M540.0 60.64 h-5 M31.7 34.37 h5 M540.0 34.37 h-5 M31.7 8.10 h5 M540.0 8.10 h-5" stroke="#9e9e9e" stroke-width="1" fill="none"/>
<rect x="373.5" y="176.85" width="166.5" height="15.150000000000006" fill="#fff" stroke="#858585" stroke-width="0.8"/>
<path d="M375.2 184.5 H391.6" stroke="#0072BD" stroke-width="1.25"/>
<text x="392.8" y="188.7" font-family="Liberation Sans, sans-serif" font-weight="bold" font-size="11.1" fill="#1a1a1a" stroke="#1a1a1a" stroke-width="0.15">PI</text>
<path d="M407.4 184.5 H423.2" stroke="#EDB120" stroke-width="1.25"/>
<text x="424.6" y="188.7" font-family="Liberation Sans, sans-serif" font-weight="bold" font-size="11.1" fill="#1a1a1a" stroke="#1a1a1a" stroke-width="0.15">BCO</text>
<path d="M453 184.5 H469.2" stroke="#00FF00" stroke-width="1.25"/>
<text x="470.8" y="188.7" font-family="Liberation Sans, sans-serif" font-weight="bold" font-size="11.1" fill="#1a1a1a" stroke="#1a1a1a" stroke-width="0.15">TEO</text>
<path d="M497 184.5 H513.2" stroke="#FF0000" stroke-width="1.25"/>
<text x="514.6" y="188.7" font-family="Liberation Sans, sans-serif" font-weight="bold" font-size="11.1" fill="#1a1a1a" stroke="#1a1a1a" stroke-width="0.15">PDO</text>
<text x="31.30" y="207.3" text-anchor="middle" font-family="Liberation Sans, sans-serif" font-weight="bold" font-size="10.85" fill="#1a1a1a" stroke="#1a1a1a" stroke-width="0.15">0</text>
<text x="82.13" y="207.3" text-anchor="middle" font-family="Liberation Sans, sans-serif" font-weight="bold" font-size="10.85" fill="#1a1a1a" stroke="#1a1a1a" stroke-width="0.15">0.01</text>
<text x="132.96" y="207.3" text-anchor="middle" font-family="Liberation Sans, sans-serif" font-weight="bold" font-size="10.85" fill="#1a1a1a" stroke="#1a1a1a" stroke-width="0.15">0.02</text>
<text x="183.79" y="207.3" text-anchor="middle" font-family="Liberation Sans, sans-serif" font-weight="bold" font-size="10.85" fill="#1a1a1a" stroke="#1a1a1a" stroke-width="0.15">0.03</text>
<text x="234.62" y="207.3" text-anchor="middle" font-family="Liberation Sans, sans-serif" font-weight="bold" font-size="10.85" fill="#1a1a1a" stroke="#1a1a1a" stroke-width="0.15">0.04</text>
<text x="285.45" y="207.3" text-anchor="middle" font-family="Liberation Sans, sans-serif" font-weight="bold" font-size="10.85" fill="#1a1a1a" stroke="#1a1a1a" stroke-width="0.15">0.05</text>
<text x="336.28" y="207.3" text-anchor="middle" font-family="Liberation Sans, sans-serif" font-weight="bold" font-size="10.85" fill="#1a1a1a" stroke="#1a1a1a" stroke-width="0.15">0.06</text>
<text x="387.11" y="207.3" text-anchor="middle" font-family="Liberation Sans, sans-serif" font-weight="bold" font-size="10.85" fill="#1a1a1a" stroke="#1a1a1a" stroke-width="0.15">0.07</text>
<text x="437.94" y="207.3" text-anchor="middle" font-family="Liberation Sans, sans-serif" font-weight="bold" font-size="10.85" fill="#1a1a1a" stroke="#1a1a1a" stroke-width="0.15">0.08</text>
<text x="488.77" y="207.3" text-anchor="middle" font-family="Liberation Sans, sans-serif" font-weight="bold" font-size="10.85" fill="#1a1a1a" stroke="#1a1a1a" stroke-width="0.15">0.09</text>
<text x="540.10" y="207.3" text-anchor="middle" font-family="Liberation Sans, sans-serif" font-weight="bold" font-size="10.85" fill="#1a1a1a" stroke="#1a1a1a" stroke-width="0.15">0.1</text>
<text x="27.8" y="196.35" text-anchor="end" font-family="Liberation Sans, sans-serif" font-weight="bold" font-size="10.85" fill="#1a1a1a" stroke="#1a1a1a" stroke-width="0.15">-2</text>
<text x="27.8" y="170.08" text-anchor="end" font-family="Liberation Sans, sans-serif" font-weight="bold" font-size="10.85" fill="#1a1a1a" stroke="#1a1a1a" stroke-width="0.15">-1</text>
<text x="27.8" y="143.81" text-anchor="end" font-family="Liberation Sans, sans-serif" font-weight="bold" font-size="10.85" fill="#1a1a1a" stroke="#1a1a1a" stroke-width="0.15">0</text>
<text x="27.8" y="117.54" text-anchor="end" font-family="Liberation Sans, sans-serif" font-weight="bold" font-size="10.85" fill="#1a1a1a" stroke="#1a1a1a" stroke-width="0.15">1</text>
<text x="27.8" y="91.26" text-anchor="end" font-family="Liberation Sans, sans-serif" font-weight="bold" font-size="10.85" fill="#1a1a1a" stroke="#1a1a1a" stroke-width="0.15">2</text>
<text x="27.8" y="64.99" text-anchor="end" font-family="Liberation Sans, sans-serif" font-weight="bold" font-size="10.85" fill="#1a1a1a" stroke="#1a1a1a" stroke-width="0.15">3</text>
<text x="27.8" y="38.72" text-anchor="end" font-family="Liberation Sans, sans-serif" font-weight="bold" font-size="10.85" fill="#1a1a1a" stroke="#1a1a1a" stroke-width="0.15">4</text>
<text x="27.8" y="12.45" text-anchor="end" font-family="Liberation Sans, sans-serif" font-weight="bold" font-size="10.85" fill="#1a1a1a" stroke="#1a1a1a" stroke-width="0.15">5</text>
<text x="286.0" y="221.2" text-anchor="middle" font-family="Liberation Sans, sans-serif" font-weight="bold" font-size="11.1" fill="#1a1a1a" stroke="#1a1a1a" stroke-width="0.15">Time in Sec</text>
<text transform="translate(13.45 100.25) rotate(-90)" text-anchor="middle" font-family="Liberation Sans, sans-serif" font-weight="bold" font-size="11" fill="#1a1a1a" stroke="#1a1a1a" stroke-width="0.15">Grid Current in p.u.</text>
<text x="276.1" y="238.4" text-anchor="middle" font-family="Liberation Serif, serif" font-size="10.9" textLength="14.4" lengthAdjust="spacingAndGlyphs" fill="#1a1a1a">(<tspan font-weight="bold">k</tspan>)</text>
</svg></body></html>
